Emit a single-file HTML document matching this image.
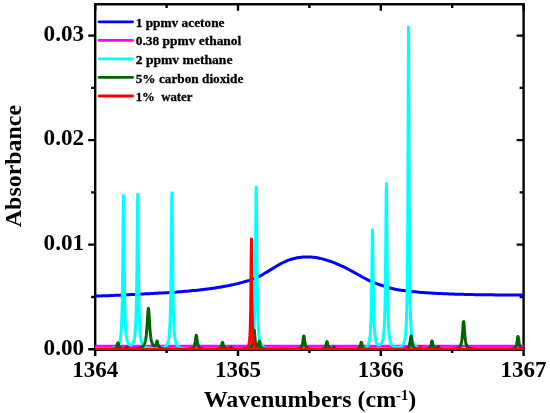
<!DOCTYPE html>
<html><head><meta charset="utf-8"><title>Absorbance spectra</title>
<style>
html,body{margin:0;padding:0;background:#fff;}
svg{display:block}
text{font-family:"Liberation Serif","DejaVu Serif",serif;font-weight:bold;fill:#000}
.tk{font-size:23px}
.lg{font-size:13.5px;stroke:#000;stroke-width:0.3px}
.ti{font-size:23px}
</style></head>
<body>
<svg width="550" height="413" viewBox="0 0 550 413">
<defs><clipPath id="cl"><rect x="0" y="0" width="550" height="348.6"/></clipPath><clipPath id="cr"><rect x="0" y="0" width="550" height="348.1"/></clipPath></defs>
<rect width="550" height="413" fill="#fff"/>
<rect x="95.20" y="4.25" width="428.40" height="345.45" fill="none" stroke="#000" stroke-width="2.4"/>
<path d="M95.20,349.70 v6.20 M95.20,4.25 v6.60 M166.60,349.70 v3.40 M166.60,4.25 v3.80 M238.00,349.70 v6.20 M238.00,4.25 v6.60 M309.40,349.70 v3.40 M309.40,4.25 v3.80 M380.80,349.70 v6.20 M380.80,4.25 v6.60 M452.20,349.70 v3.40 M452.20,4.25 v3.80 M523.60,349.70 v6.20 M523.60,4.25 v6.60 M95.20,349.20 h-7.00 M523.60,349.20 h-7.00 M95.20,296.93 h-4.00 M523.60,296.93 h-4.00 M95.20,244.67 h-7.00 M523.60,244.67 h-7.00 M95.20,192.40 h-4.00 M523.60,192.40 h-4.00 M95.20,140.13 h-7.00 M523.60,140.13 h-7.00 M95.20,87.87 h-4.00 M523.60,87.87 h-4.00 M95.20,35.60 h-7.00 M523.60,35.60 h-7.00" fill="none" stroke="#000" stroke-width="2.4"/>
<path d="M95.20,296.10 L97.20,296.05 L99.20,295.99 L101.20,295.92 L103.20,295.85 L105.20,295.78 L107.20,295.71 L109.20,295.63 L111.20,295.55 L113.20,295.46 L115.20,295.37 L117.20,295.28 L119.20,295.19 L121.20,295.10 L123.20,295.00 L125.20,294.90 L127.20,294.80 L129.20,294.70 L131.20,294.59 L133.20,294.49 L135.20,294.39 L137.20,294.28 L139.20,294.17 L141.20,294.07 L143.20,293.96 L145.20,293.86 L147.20,293.75 L149.20,293.65 L151.20,293.54 L153.20,293.44 L155.20,293.34 L157.20,293.23 L159.20,293.12 L161.20,293.02 L163.20,292.90 L165.20,292.79 L167.20,292.67 L169.20,292.55 L171.20,292.42 L173.20,292.29 L175.20,292.15 L177.20,292.01 L179.20,291.86 L181.20,291.70 L183.20,291.53 L185.20,291.36 L187.20,291.18 L189.20,291.00 L191.20,290.81 L193.20,290.61 L195.20,290.40 L197.20,290.18 L199.20,289.96 L201.20,289.73 L203.20,289.50 L205.20,289.25 L207.20,289.00 L209.20,288.74 L211.20,288.47 L213.20,288.19 L215.20,287.90 L217.20,287.59 L219.20,287.28 L221.20,286.95 L223.20,286.60 L225.20,286.24 L227.20,285.86 L229.20,285.46 L231.20,285.04 L233.20,284.61 L235.20,284.15 L237.20,283.67 L239.20,283.17 L241.20,282.65 L243.20,282.11 L245.20,281.54 L247.20,280.95 L249.20,280.33 L251.20,279.66 L253.20,278.93 L255.20,278.15 L257.20,277.29 L259.20,276.35 L261.20,275.32 L263.20,274.22 L265.20,273.06 L267.20,271.86 L269.20,270.63 L271.20,269.38 L273.20,268.15 L275.20,266.93 L277.20,265.74 L279.20,264.60 L281.20,263.51 L283.20,262.49 L285.20,261.54 L287.20,260.69 L289.20,259.94 L291.20,259.28 L293.20,258.72 L295.20,258.25 L297.20,257.84 L299.20,257.51 L301.20,257.25 L303.20,257.06 L305.20,256.94 L307.20,256.89 L309.20,256.93 L311.20,257.03 L313.20,257.21 L315.20,257.46 L317.20,257.78 L319.20,258.17 L321.20,258.62 L323.20,259.13 L325.20,259.69 L327.20,260.31 L329.20,260.97 L331.20,261.68 L333.20,262.43 L335.20,263.21 L337.20,264.03 L339.20,264.89 L341.20,265.79 L343.20,266.73 L345.20,267.70 L347.20,268.71 L349.20,269.75 L351.20,270.82 L353.20,271.91 L355.20,273.02 L357.20,274.14 L359.20,275.25 L361.20,276.37 L363.20,277.47 L365.20,278.54 L367.20,279.58 L369.20,280.56 L371.20,281.49 L373.20,282.35 L375.20,283.14 L377.20,283.88 L379.20,284.59 L381.20,285.27 L383.20,285.93 L385.20,286.56 L387.20,287.17 L389.20,287.75 L391.20,288.29 L393.20,288.78 L395.20,289.21 L397.20,289.60 L399.20,289.95 L401.20,290.26 L403.20,290.54 L405.20,290.80 L407.20,291.03 L409.20,291.26 L411.20,291.47 L413.20,291.67 L415.20,291.86 L417.20,292.05 L419.20,292.22 L421.20,292.39 L423.20,292.54 L425.20,292.69 L427.20,292.83 L429.20,292.97 L431.20,293.09 L433.20,293.21 L435.20,293.32 L437.20,293.42 L439.20,293.52 L441.20,293.62 L443.20,293.70 L445.20,293.79 L447.20,293.86 L449.20,293.94 L451.20,294.01 L453.20,294.07 L455.20,294.14 L457.20,294.20 L459.20,294.25 L461.20,294.31 L463.20,294.36 L465.20,294.41 L467.20,294.46 L469.20,294.51 L471.20,294.55 L473.20,294.59 L475.20,294.63 L477.20,294.66 L479.20,294.70 L481.20,294.73 L483.20,294.76 L485.20,294.78 L487.20,294.81 L489.20,294.83 L491.20,294.85 L493.20,294.87 L495.20,294.89 L497.20,294.90 L499.20,294.91 L501.20,294.92 L503.20,294.93 L505.20,294.94 L507.20,294.94 L509.20,294.94 L511.20,294.94 L513.20,294.94 L515.20,294.94 L517.20,294.93 L519.20,294.92 L521.20,294.91 L523.20,294.90" fill="none" stroke="#0000ff" stroke-width="3.0" stroke-linejoin="round"/>
<path d="M95.2,346.3 L523.6,346.3" fill="none" stroke="#ff00ff" stroke-width="3.0"/>
<g clip-path="url(#cl)">
<path d="M95.20,349.22 L95.45,349.22 L95.70,349.22 L95.95,349.21 L96.20,349.21 L96.45,349.20 L96.70,349.20 L96.95,349.20 L97.20,349.19 L97.45,349.19 L97.70,349.18 L97.95,349.18 L98.20,349.18 L98.45,349.17 L98.70,349.17 L98.95,349.16 L99.20,349.16 L99.45,349.15 L99.70,349.15 L99.95,349.14 L100.20,349.14 L100.45,349.13 L100.70,349.12 L100.95,349.12 L101.20,349.11 L101.45,349.11 L101.70,349.10 L101.95,349.09 L102.20,349.08 L102.45,349.08 L102.70,349.07 L102.95,349.06 L103.20,349.05 L103.45,349.05 L103.70,349.04 L103.95,349.03 L104.20,349.02 L104.45,349.01 L104.70,349.00 L104.95,348.99 L105.20,348.98 L105.45,348.97 L105.70,348.96 L105.95,348.94 L106.20,348.93 L106.45,348.92 L106.70,348.91 L106.95,348.89 L107.20,348.88 L107.45,348.86 L107.70,348.85 L107.95,348.83 L108.20,348.81 L108.45,348.79 L108.70,348.77 L108.95,348.75 L109.20,348.73 L109.45,348.71 L109.70,348.69 L109.95,348.66 L110.20,348.64 L110.45,348.61 L110.70,348.58 L110.95,348.55 L111.20,348.52 L111.45,348.49 L111.70,348.45 L111.95,348.41 L112.20,348.37 L112.45,348.33 L112.70,348.28 L112.95,348.23 L113.20,348.18 L113.45,348.12 L113.70,348.06 L113.95,348.00 L114.20,347.93 L114.45,347.85 L114.70,347.77 L114.95,347.68 L115.20,347.59 L115.45,347.48 L115.70,347.37 L115.95,347.24 L116.20,347.11 L116.45,346.95 L116.70,346.78 L116.95,346.60 L117.20,346.39 L117.45,346.15 L117.70,345.89 L117.95,345.59 L118.20,345.25 L118.45,344.86 L118.70,344.42 L118.95,343.90 L119.20,343.29 L119.45,342.58 L119.70,341.73 L119.95,340.71 L120.20,339.47 L120.45,337.94 L120.70,336.04 L120.95,333.62 L121.20,330.51 L121.45,326.42 L121.70,320.93 L121.95,313.40 L122.20,302.88 L122.45,288.05 L122.70,267.37 L122.95,240.50 L123.20,212.14 L123.45,195.62 L123.70,203.14 L123.95,228.71 L124.20,257.16 L124.45,280.40 L124.70,297.36 L124.95,309.38 L125.20,317.93 L125.45,324.10 L125.70,328.64 L125.95,332.06 L126.20,334.68 L126.45,336.72 L126.70,338.33 L126.95,339.62 L127.20,340.67 L127.45,341.52 L127.70,342.22 L127.95,342.80 L128.20,343.28 L128.45,343.68 L128.70,344.01 L128.95,344.28 L129.20,344.50 L129.45,344.68 L129.70,344.81 L129.95,344.91 L130.20,344.98 L130.45,345.01 L130.70,345.01 L130.95,344.98 L131.20,344.92 L131.45,344.83 L131.70,344.69 L131.95,344.52 L132.20,344.31 L132.45,344.04 L132.70,343.72 L132.95,343.34 L133.20,342.87 L133.45,342.31 L133.70,341.63 L133.95,340.80 L134.20,339.79 L134.45,338.55 L134.70,337.00 L134.95,335.04 L135.20,332.54 L135.45,329.29 L135.70,324.98 L135.95,319.15 L136.20,311.12 L136.45,299.85 L136.70,283.93 L136.95,261.89 L137.20,234.01 L137.45,206.62 L137.70,194.34 L137.95,206.65 L138.20,234.08 L138.45,262.00 L138.70,284.07 L138.95,300.03 L139.20,311.34 L139.45,319.41 L139.70,325.27 L139.95,329.63 L140.20,332.92 L140.45,335.47 L140.70,337.47 L140.95,339.06 L141.20,340.36 L141.45,341.42 L141.70,342.30 L141.95,343.04 L142.20,343.67 L142.45,344.20 L142.70,344.66 L142.95,345.06 L143.20,345.41 L143.45,345.71 L143.70,345.98 L143.95,346.22 L144.20,346.43 L144.45,346.62 L144.70,346.79 L144.95,346.94 L145.20,347.08 L145.45,347.21 L145.70,347.32 L145.95,347.42 L146.20,347.52 L146.45,347.60 L146.70,347.68 L146.95,347.76 L147.20,347.82 L147.45,347.89 L147.70,347.94 L147.95,348.00 L148.20,348.04 L148.45,348.09 L148.70,348.13 L148.95,348.17 L149.20,348.21 L149.45,348.24 L149.70,348.27 L149.95,348.30 L150.20,348.33 L150.45,348.35 L150.70,348.37 L150.95,348.39 L151.20,348.41 L151.45,348.43 L151.70,348.45 L151.95,348.46 L152.20,348.48 L152.45,348.49 L152.70,348.50 L152.95,348.51 L153.20,348.52 L153.45,348.53 L153.70,348.53 L153.95,348.54 L154.20,348.54 L154.45,348.55 L154.70,348.55 L154.95,348.55 L155.20,348.55 L155.45,348.55 L155.70,348.55 L155.95,348.55 L156.20,348.54 L156.45,348.54 L156.70,348.53 L156.95,348.53 L157.20,348.52 L157.45,348.51 L157.70,348.50 L157.95,348.48 L158.20,348.47 L158.45,348.46 L158.70,348.44 L158.95,348.42 L159.20,348.40 L159.45,348.38 L159.70,348.36 L159.95,348.33 L160.20,348.30 L160.45,348.27 L160.70,348.24 L160.95,348.20 L161.20,348.17 L161.45,348.12 L161.70,348.08 L161.95,348.03 L162.20,347.97 L162.45,347.91 L162.70,347.85 L162.95,347.78 L163.20,347.70 L163.45,347.62 L163.70,347.53 L163.95,347.42 L164.20,347.31 L164.45,347.19 L164.70,347.05 L164.95,346.90 L165.20,346.73 L165.45,346.54 L165.70,346.33 L165.95,346.08 L166.20,345.81 L166.45,345.50 L166.70,345.15 L166.95,344.74 L167.20,344.26 L167.45,343.71 L167.70,343.06 L167.95,342.29 L168.20,341.37 L168.45,340.26 L168.70,338.90 L168.95,337.21 L169.20,335.09 L169.45,332.38 L169.70,328.85 L169.95,324.18 L170.20,317.84 L170.45,309.08 L170.70,296.77 L170.95,279.41 L171.20,255.64 L171.45,226.53 L171.70,200.38 L171.95,192.68 L172.20,209.54 L172.45,238.52 L172.70,265.96 L172.95,287.08 L173.20,302.23 L173.45,312.96 L173.70,320.64 L173.95,326.24 L174.20,330.41 L174.45,333.58 L174.70,336.04 L174.95,337.98 L175.20,339.53 L175.45,340.78 L175.70,341.82 L175.95,342.68 L176.20,343.40 L176.45,344.01 L176.70,344.53 L176.95,344.98 L177.20,345.37 L177.45,345.71 L177.70,346.01 L177.95,346.27 L178.20,346.51 L178.45,346.72 L178.70,346.90 L178.95,347.07 L179.20,347.22 L179.45,347.36 L179.70,347.48 L179.95,347.59 L180.20,347.69 L180.45,347.79 L180.70,347.87 L180.95,347.95 L181.20,348.03 L181.45,348.09 L181.70,348.16 L181.95,348.22 L182.20,348.27 L182.45,348.32 L182.70,348.37 L182.95,348.41 L183.20,348.45 L183.45,348.49 L183.70,348.53 L183.95,348.56 L184.20,348.59 L184.45,348.62 L184.70,348.65 L184.95,348.68 L185.20,348.70 L185.45,348.72 L185.70,348.75 L185.95,348.77 L186.20,348.79 L186.45,348.81 L186.70,348.83 L186.95,348.84 L187.20,348.86 L187.45,348.88 L187.70,348.89 L187.95,348.91 L188.20,348.92 L188.45,348.93 L188.70,348.95 L188.95,348.96 L189.20,348.97 L189.45,348.98 L189.70,348.99 L189.95,349.00 L190.20,349.01 L190.45,349.02 L190.70,349.03 L190.95,349.04 L191.20,349.05 L191.45,349.05 L191.70,349.06 L191.95,349.07 L192.20,349.08 L192.45,349.08 L192.70,349.09 L192.95,349.10 L193.20,349.10 L193.45,349.11 L193.70,349.11 L193.95,349.12 L194.20,349.13 L194.45,349.13 L194.70,349.14 L194.95,349.14 L195.20,349.15 L195.45,349.15 L195.70,349.15 L195.95,349.16 L196.20,349.16 L196.45,349.17 L196.70,349.17 L196.95,349.17 L197.20,349.18 L197.45,349.18 L197.70,349.18 L197.95,349.19 L198.20,349.19 L198.45,349.19 L198.70,349.20 L198.95,349.20 L199.20,349.20 L199.45,349.21 L199.70,349.21 L199.95,349.21 L200.20,349.21 L200.45,349.22 L200.70,349.22 L200.95,349.22 L201.20,349.22 L201.45,349.23 L201.70,349.23 L201.95,349.23 L202.20,349.23 L202.45,349.23 L202.70,349.24 L202.95,349.24 L203.20,349.24 L203.45,349.24 L203.70,349.24 L203.95,349.24 L204.20,349.25 L204.45,349.25 L204.70,349.25 L204.95,349.25 L205.20,349.25 L205.45,349.25 L205.70,349.25 L205.95,349.26 L206.20,349.26 L206.45,349.26 L206.70,349.26 L206.95,349.26 L207.20,349.26 L207.45,349.26 L207.70,349.26 L207.95,349.26 L208.20,349.26 L208.45,349.27 L208.70,349.27 L208.95,349.27 L209.20,349.27 L209.45,349.27 L209.70,349.27 L209.95,349.27 L210.20,349.27 L210.45,349.27 L210.70,349.27 L210.95,349.27 L211.20,349.27 L211.45,349.27 L211.70,349.27 L211.95,349.27 L212.20,349.27 L212.45,349.27 L212.70,349.28 L212.95,349.28 L213.20,349.28 L213.45,349.28 L213.70,349.28 L213.95,349.28 L214.20,349.28 L214.45,349.28 L214.70,349.28 L214.95,349.28 L215.20,349.28 L215.45,349.28 L215.70,349.28 L215.95,349.28 L216.20,349.28 L216.45,349.28 L216.70,349.28 L216.95,349.28 L217.20,349.28 L217.45,349.28 L217.70,349.28 L217.95,349.27 L218.20,349.27 L218.45,349.27 L218.70,349.27 L218.95,349.27 L219.20,349.27 L219.45,349.27 L219.70,349.27 L219.95,349.27 L220.20,349.27 L220.45,349.27 L220.70,349.27 L220.95,349.27 L221.20,349.27 L221.45,349.27 L221.70,349.27 L221.95,349.27 L222.20,349.26 L222.45,349.26 L222.70,349.26 L222.95,349.26 L223.20,349.26 L223.45,349.26 L223.70,349.26 L223.95,349.26 L224.20,349.26 L224.45,349.25 L224.70,349.25 L224.95,349.25 L225.20,349.25 L225.45,349.25 L225.70,349.25 L225.95,349.25 L226.20,349.24 L226.45,349.24 L226.70,349.24 L226.95,349.24 L227.20,349.24 L227.45,349.23 L227.70,349.23 L227.95,349.23 L228.20,349.23 L228.45,349.23 L228.70,349.22 L228.95,349.22 L229.20,349.22 L229.45,349.22 L229.70,349.21 L229.95,349.21 L230.20,349.21 L230.45,349.20 L230.70,349.20 L230.95,349.20 L231.20,349.19 L231.45,349.19 L231.70,349.19 L231.95,349.18 L232.20,349.18 L232.45,349.18 L232.70,349.17 L232.95,349.17 L233.20,349.16 L233.45,349.16 L233.70,349.15 L233.95,349.15 L234.20,349.14 L234.45,349.14 L234.70,349.13 L234.95,349.13 L235.20,349.12 L235.45,349.12 L235.70,349.11 L235.95,349.10 L236.20,349.10 L236.45,349.09 L236.70,349.08 L236.95,349.07 L237.20,349.06 L237.45,349.06 L237.70,349.05 L237.95,349.04 L238.20,349.03 L238.45,349.02 L238.70,349.01 L238.95,349.00 L239.20,348.99 L239.45,348.97 L239.70,348.96 L239.95,348.95 L240.20,348.93 L240.45,348.92 L240.70,348.91 L240.95,348.89 L241.20,348.87 L241.45,348.86 L241.70,348.84 L241.95,348.82 L242.20,348.80 L242.45,348.78 L242.70,348.75 L242.95,348.73 L243.20,348.70 L243.45,348.68 L243.70,348.65 L243.95,348.62 L244.20,348.58 L244.45,348.55 L244.70,348.51 L244.95,348.47 L245.20,348.43 L245.45,348.39 L245.70,348.34 L245.95,348.29 L246.20,348.23 L246.45,348.17 L246.70,348.11 L246.95,348.04 L247.20,347.96 L247.45,347.88 L247.70,347.79 L247.95,347.69 L248.20,347.59 L248.45,347.47 L248.70,347.34 L248.95,347.20 L249.20,347.04 L249.45,346.86 L249.70,346.67 L249.95,346.45 L250.20,346.21 L250.45,345.93 L250.70,345.61 L250.95,345.25 L251.20,344.84 L251.45,344.36 L251.70,343.81 L251.95,343.16 L252.20,342.39 L252.45,341.47 L252.70,340.36 L252.95,339.01 L253.20,337.34 L253.45,335.25 L253.70,332.59 L253.95,329.14 L254.20,324.58 L254.45,318.43 L254.70,309.96 L254.95,298.10 L255.20,281.34 L255.45,258.17 L255.70,228.86 L255.95,200.07 L256.20,187.15 L256.45,200.07 L256.70,228.86 L256.95,258.17 L257.20,281.35 L257.45,298.10 L257.70,309.96 L257.95,318.43 L258.20,324.58 L258.45,329.14 L258.70,332.59 L258.95,335.25 L259.20,337.34 L259.45,339.01 L259.70,340.36 L259.95,341.47 L260.20,342.39 L260.45,343.16 L260.70,343.81 L260.95,344.37 L261.20,344.84 L261.45,345.26 L261.70,345.62 L261.95,345.93 L262.20,346.21 L262.45,346.46 L262.70,346.67 L262.95,346.87 L263.20,347.04 L263.45,347.20 L263.70,347.34 L263.95,347.47 L264.20,347.59 L264.45,347.70 L264.70,347.80 L264.95,347.89 L265.20,347.97 L265.45,348.04 L265.70,348.11 L265.95,348.18 L266.20,348.24 L266.45,348.29 L266.70,348.35 L266.95,348.39 L267.20,348.44 L267.45,348.48 L267.70,348.52 L267.95,348.56 L268.20,348.59 L268.45,348.62 L268.70,348.66 L268.95,348.68 L269.20,348.71 L269.45,348.74 L269.70,348.76 L269.95,348.78 L270.20,348.81 L270.45,348.83 L270.70,348.85 L270.95,348.87 L271.20,348.88 L271.45,348.90 L271.70,348.92 L271.95,348.93 L272.20,348.95 L272.45,348.96 L272.70,348.97 L272.95,348.99 L273.20,349.00 L273.45,349.01 L273.70,349.02 L273.95,349.03 L274.20,349.04 L274.45,349.05 L274.70,349.06 L274.95,349.07 L275.20,349.08 L275.45,349.09 L275.70,349.09 L275.95,349.10 L276.20,349.11 L276.45,349.12 L276.70,349.12 L276.95,349.13 L277.20,349.14 L277.45,349.14 L277.70,349.15 L277.95,349.15 L278.20,349.16 L278.45,349.17 L278.70,349.17 L278.95,349.18 L279.20,349.18 L279.45,349.18 L279.70,349.19 L279.95,349.19 L280.20,349.20 L280.45,349.20 L280.70,349.21 L280.95,349.21 L281.20,349.21 L281.45,349.22 L281.70,349.22 L281.95,349.22 L282.20,349.23 L282.45,349.23 L282.70,349.23 L282.95,349.24 L283.20,349.24 L283.45,349.24 L283.70,349.25 L283.95,349.25 L284.20,349.25 L284.45,349.25 L284.70,349.26 L284.95,349.26 L285.20,349.26 L285.45,349.26 L285.70,349.26 L285.95,349.27 L286.20,349.27 L286.45,349.27 L286.70,349.27 L286.95,349.28 L287.20,349.28 L287.45,349.28 L287.70,349.28 L287.95,349.28 L288.20,349.28 L288.45,349.29 L288.70,349.29 L288.95,349.29 L289.20,349.29 L289.45,349.29 L289.70,349.29 L289.95,349.29 L290.20,349.30 L290.45,349.30 L290.70,349.30 L290.95,349.30 L291.20,349.30 L291.45,349.30 L291.70,349.30 L291.95,349.30 L292.20,349.31 L292.45,349.31 L292.70,349.31 L292.95,349.31 L293.20,349.31 L293.45,349.31 L293.70,349.31 L293.95,349.31 L294.20,349.31 L294.45,349.31 L294.70,349.32 L294.95,349.32 L295.20,349.32 L295.45,349.32 L295.70,349.32 L295.95,349.32 L296.20,349.32 L296.45,349.32 L296.70,349.32 L296.95,349.32 L297.20,349.32 L297.45,349.32 L297.70,349.32 L297.95,349.33 L298.20,349.33 L298.45,349.33 L298.70,349.33 L298.95,349.33 L299.20,349.33 L299.45,349.33 L299.70,349.33 L299.95,349.33 L300.20,349.33 L300.45,349.33 L300.70,349.33 L300.95,349.33 L301.20,349.33 L301.45,349.33 L301.70,349.33 L301.95,349.33 L302.20,349.33 L302.45,349.33 L302.70,349.33 L302.95,349.33 L303.20,349.34 L303.45,349.34 L303.70,349.34 L303.95,349.34 L304.20,349.34 L304.45,349.34 L304.70,349.34 L304.95,349.34 L305.20,349.34 L305.45,349.34 L305.70,349.34 L305.95,349.34 L306.20,349.34 L306.45,349.34 L306.70,349.34 L306.95,349.34 L307.20,349.34 L307.45,349.34 L307.70,349.34 L307.95,349.34 L308.20,349.34 L308.45,349.34 L308.70,349.34 L308.95,349.34 L309.20,349.34 L309.45,349.34 L309.70,349.34 L309.95,349.34 L310.20,349.34 L310.45,349.34 L310.70,349.34 L310.95,349.34 L311.20,349.34 L311.45,349.34 L311.70,349.34 L311.95,349.34 L312.20,349.34 L312.45,349.34 L312.70,349.34 L312.95,349.34 L313.20,349.34 L313.45,349.34 L313.70,349.34 L313.95,349.34 L314.20,349.34 L314.45,349.34 L314.70,349.34 L314.95,349.34 L315.20,349.34 L315.45,349.34 L315.70,349.34 L315.95,349.34 L316.20,349.34 L316.45,349.34 L316.70,349.34 L316.95,349.34 L317.20,349.34 L317.45,349.34 L317.70,349.34 L317.95,349.34 L318.20,349.34 L318.45,349.34 L318.70,349.34 L318.95,349.33 L319.20,349.33 L319.45,349.33 L319.70,349.33 L319.95,349.33 L320.20,349.33 L320.45,349.33 L320.70,349.33 L320.95,349.33 L321.20,349.33 L321.45,349.33 L321.70,349.33 L321.95,349.33 L322.20,349.33 L322.45,349.33 L322.70,349.33 L322.95,349.33 L323.20,349.33 L323.45,349.33 L323.70,349.33 L323.95,349.33 L324.20,349.33 L324.45,349.33 L324.70,349.33 L324.95,349.32 L325.20,349.32 L325.45,349.32 L325.70,349.32 L325.95,349.32 L326.20,349.32 L326.45,349.32 L326.70,349.32 L326.95,349.32 L327.20,349.32 L327.45,349.32 L327.70,349.32 L327.95,349.32 L328.20,349.32 L328.45,349.32 L328.70,349.31 L328.95,349.31 L329.20,349.31 L329.45,349.31 L329.70,349.31 L329.95,349.31 L330.20,349.31 L330.45,349.31 L330.70,349.31 L330.95,349.31 L331.20,349.31 L331.45,349.31 L331.70,349.30 L331.95,349.30 L332.20,349.30 L332.45,349.30 L332.70,349.30 L332.95,349.30 L333.20,349.30 L333.45,349.30 L333.70,349.30 L333.95,349.29 L334.20,349.29 L334.45,349.29 L334.70,349.29 L334.95,349.29 L335.20,349.29 L335.45,349.29 L335.70,349.29 L335.95,349.28 L336.20,349.28 L336.45,349.28 L336.70,349.28 L336.95,349.28 L337.20,349.28 L337.45,349.28 L337.70,349.27 L337.95,349.27 L338.20,349.27 L338.45,349.27 L338.70,349.27 L338.95,349.27 L339.20,349.26 L339.45,349.26 L339.70,349.26 L339.95,349.26 L340.20,349.26 L340.45,349.25 L340.70,349.25 L340.95,349.25 L341.20,349.25 L341.45,349.25 L341.70,349.24 L341.95,349.24 L342.20,349.24 L342.45,349.24 L342.70,349.23 L342.95,349.23 L343.20,349.23 L343.45,349.23 L343.70,349.22 L343.95,349.22 L344.20,349.22 L344.45,349.21 L344.70,349.21 L344.95,349.21 L345.20,349.21 L345.45,349.20 L345.70,349.20 L345.95,349.20 L346.20,349.19 L346.45,349.19 L346.70,349.19 L346.95,349.18 L347.20,349.18 L347.45,349.17 L347.70,349.17 L347.95,349.17 L348.20,349.16 L348.45,349.16 L348.70,349.15 L348.95,349.15 L349.20,349.14 L349.45,349.14 L349.70,349.13 L349.95,349.13 L350.20,349.12 L350.45,349.12 L350.70,349.11 L350.95,349.11 L351.20,349.10 L351.45,349.09 L351.70,349.09 L351.95,349.08 L352.20,349.07 L352.45,349.07 L352.70,349.06 L352.95,349.05 L353.20,349.04 L353.45,349.04 L353.70,349.03 L353.95,349.02 L354.20,349.01 L354.45,349.00 L354.70,348.99 L354.95,348.98 L355.20,348.97 L355.45,348.96 L355.70,348.95 L355.95,348.94 L356.20,348.92 L356.45,348.91 L356.70,348.90 L356.95,348.88 L357.20,348.87 L357.45,348.86 L357.70,348.84 L357.95,348.82 L358.20,348.81 L358.45,348.79 L358.70,348.77 L358.95,348.75 L359.20,348.73 L359.45,348.70 L359.70,348.68 L359.95,348.66 L360.20,348.63 L360.45,348.60 L360.70,348.57 L360.95,348.54 L361.20,348.51 L361.45,348.48 L361.70,348.44 L361.95,348.40 L362.20,348.36 L362.45,348.31 L362.70,348.26 L362.95,348.21 L363.20,348.15 L363.45,348.09 L363.70,348.03 L363.95,347.96 L364.20,347.88 L364.45,347.80 L364.70,347.71 L364.95,347.61 L365.20,347.50 L365.45,347.38 L365.70,347.24 L365.95,347.09 L366.20,346.93 L366.45,346.74 L366.70,346.54 L366.95,346.30 L367.20,346.04 L367.45,345.73 L367.70,345.38 L367.95,344.97 L368.20,344.50 L368.45,343.94 L368.70,343.28 L368.95,342.48 L369.20,341.51 L369.45,340.33 L369.70,338.84 L369.95,336.96 L370.20,334.54 L370.45,331.36 L370.70,327.09 L370.95,321.24 L371.20,313.07 L371.45,301.55 L371.70,285.49 L371.95,264.63 L372.20,242.61 L372.45,229.78 L372.70,235.60 L372.95,255.44 L373.20,277.52 L373.45,295.55 L373.70,308.71 L373.95,318.03 L374.20,324.65 L374.45,329.42 L374.70,332.94 L374.95,335.58 L375.20,337.60 L375.45,339.17 L375.70,340.40 L375.95,341.38 L376.20,342.18 L376.45,342.82 L376.70,343.34 L376.95,343.76 L377.20,344.11 L377.45,344.39 L377.70,344.62 L377.95,344.79 L378.20,344.93 L378.45,345.02 L378.70,345.08 L378.95,345.11 L379.20,345.11 L379.45,345.07 L379.70,345.00 L379.95,344.90 L380.20,344.77 L380.45,344.60 L380.70,344.38 L380.95,344.12 L381.20,343.81 L381.45,343.43 L381.70,342.98 L381.95,342.45 L382.20,341.80 L382.45,341.03 L382.70,340.10 L382.95,338.95 L383.20,337.55 L383.45,335.79 L383.70,333.58 L383.95,330.75 L384.20,327.05 L384.45,322.13 L384.70,315.47 L384.95,306.24 L385.20,293.27 L385.45,274.97 L385.70,249.91 L385.95,219.23 L386.20,191.65 L386.45,183.53 L386.70,201.33 L386.95,231.89 L387.20,260.84 L387.45,283.12 L387.70,299.11 L387.95,310.43 L388.20,318.53 L388.45,324.44 L388.70,328.84 L388.95,332.18 L389.20,334.77 L389.45,336.81 L389.70,338.44 L389.95,339.77 L390.20,340.85 L390.45,341.75 L390.70,342.51 L390.95,343.15 L391.20,343.69 L391.45,344.16 L391.70,344.56 L391.95,344.91 L392.20,345.21 L392.45,345.48 L392.70,345.71 L392.95,345.92 L393.20,346.10 L393.45,346.26 L393.70,346.40 L393.95,346.52 L394.20,346.64 L394.45,346.73 L394.70,346.82 L394.95,346.89 L395.20,346.96 L395.45,347.02 L395.70,347.06 L395.95,347.10 L396.20,347.14 L396.45,347.16 L396.70,347.18 L396.95,347.19 L397.20,347.20 L397.45,347.20 L397.70,347.19 L397.95,347.18 L398.20,347.16 L398.45,347.13 L398.70,347.10 L398.95,347.05 L399.20,347.00 L399.45,346.95 L399.70,346.88 L399.95,346.80 L400.20,346.71 L400.45,346.62 L400.70,346.50 L400.95,346.38 L401.20,346.23 L401.45,346.07 L401.70,345.89 L401.95,345.68 L402.20,345.45 L402.45,345.18 L402.70,344.88 L402.95,344.53 L403.20,344.13 L403.45,343.67 L403.70,343.14 L403.95,342.51 L404.20,341.78 L404.45,340.91 L404.70,339.86 L404.95,338.60 L405.20,337.06 L405.45,335.15 L405.70,332.74 L405.95,329.66 L406.20,325.63 L406.45,320.25 L406.70,312.85 L406.95,302.39 L407.20,287.05 L407.45,263.78 L407.70,227.47 L407.95,171.12 L408.20,93.57 L408.45,27.10 L408.70,36.15 L408.95,110.04 L409.20,184.32 L409.45,236.15 L409.70,269.34 L409.95,290.70 L410.20,304.88 L410.45,314.63 L410.70,321.57 L410.95,326.66 L411.20,330.48 L411.45,333.42 L411.70,335.73 L411.95,337.58 L412.20,339.07 L412.45,340.30 L412.70,341.32 L412.95,342.18 L413.20,342.90 L413.45,343.53 L413.70,344.06 L413.95,344.52 L414.20,344.93 L414.45,345.29 L414.70,345.60 L414.95,345.88 L415.20,346.13 L415.45,346.35 L415.70,346.55 L415.95,346.73 L416.20,346.90 L416.45,347.05 L416.70,347.18 L416.95,347.31 L417.20,347.42 L417.45,347.53 L417.70,347.62 L417.95,347.71 L418.20,347.79 L418.45,347.87 L418.70,347.94 L418.95,348.01 L419.20,348.07 L419.45,348.12 L419.70,348.18 L419.95,348.23 L420.20,348.28 L420.45,348.32 L420.70,348.36 L420.95,348.40 L421.20,348.44 L421.45,348.47 L421.70,348.51 L421.95,348.54 L422.20,348.57 L422.45,348.60 L422.70,348.62 L422.95,348.65 L423.20,348.67 L423.45,348.69 L423.70,348.72 L423.95,348.74 L424.20,348.76 L424.45,348.78 L424.70,348.80 L424.95,348.81 L425.20,348.83 L425.45,348.85 L425.70,348.86 L425.95,348.88 L426.20,348.89 L426.45,348.90 L426.70,348.92 L426.95,348.93 L427.20,348.94 L427.45,348.95 L427.70,348.96 L427.95,348.97 L428.20,348.99 L428.45,349.00 L428.70,349.00 L428.95,349.01 L429.20,349.02 L429.45,349.03 L429.70,349.04 L429.95,349.05 L430.20,349.06 L430.45,349.06 L430.70,349.07 L430.95,349.08 L431.20,349.09 L431.45,349.09 L431.70,349.10 L431.95,349.11 L432.20,349.11 L432.45,349.12 L432.70,349.12 L432.95,349.13 L433.20,349.14 L433.45,349.14 L433.70,349.15 L433.95,349.15 L434.20,349.16 L434.45,349.16 L434.70,349.17 L434.95,349.17 L435.20,349.17 L435.45,349.18 L435.70,349.18 L435.95,349.19 L436.20,349.19 L436.45,349.19 L436.70,349.20 L436.95,349.20 L437.20,349.21 L437.45,349.21 L437.70,349.21 L437.95,349.22 L438.20,349.22 L438.45,349.22 L438.70,349.23 L438.95,349.23 L439.20,349.23 L439.45,349.24 L439.70,349.24 L439.95,349.24 L440.20,349.24 L440.45,349.25 L440.70,349.25 L440.95,349.25 L441.20,349.25 L441.45,349.26 L441.70,349.26 L441.95,349.26 L442.20,349.26 L442.45,349.27 L442.70,349.27 L442.95,349.27 L443.20,349.27 L443.45,349.27 L443.70,349.28 L443.95,349.28 L444.20,349.28 L444.45,349.28 L444.70,349.28 L444.95,349.29 L445.20,349.29 L445.45,349.29 L445.70,349.29 L445.95,349.29 L446.20,349.30 L446.45,349.30 L446.70,349.30 L446.95,349.30 L447.20,349.30 L447.45,349.30 L447.70,349.31 L447.95,349.31 L448.20,349.31 L448.45,349.31 L448.70,349.31 L448.95,349.31 L449.20,349.31 L449.45,349.32 L449.70,349.32 L449.95,349.32 L450.20,349.32 L450.45,349.32 L450.70,349.32 L450.95,349.32 L451.20,349.32 L451.45,349.33 L451.70,349.33 L451.95,349.33 L452.20,349.33 L452.45,349.33 L452.70,349.33 L452.95,349.33 L453.20,349.33 L453.45,349.33 L453.70,349.34 L453.95,349.34 L454.20,349.34 L454.45,349.34 L454.70,349.34 L454.95,349.34 L455.20,349.34 L455.45,349.34 L455.70,349.34 L455.95,349.34 L456.20,349.35 L456.45,349.35 L456.70,349.35 L456.95,349.35 L457.20,349.35 L457.45,349.35 L457.70,349.35 L457.95,349.35 L458.20,349.35 L458.45,349.35 L458.70,349.35 L458.95,349.35 L459.20,349.36 L459.45,349.36 L459.70,349.36 L459.95,349.36 L460.20,349.36 L460.45,349.36 L460.70,349.36 L460.95,349.36 L461.20,349.36 L461.45,349.36 L461.70,349.36 L461.95,349.36 L462.20,349.36 L462.45,349.36 L462.70,349.37 L462.95,349.37 L463.20,349.37 L463.45,349.37 L463.70,349.37 L463.95,349.37 L464.20,349.37 L464.45,349.37 L464.70,349.37 L464.95,349.37 L465.20,349.37 L465.45,349.37 L465.70,349.37 L465.95,349.37 L466.20,349.37 L466.45,349.37 L466.70,349.37 L466.95,349.38 L467.20,349.38 L467.45,349.38 L467.70,349.38 L467.95,349.38 L468.20,349.38 L468.45,349.38 L468.70,349.38 L468.95,349.38 L469.20,349.38 L469.45,349.38 L469.70,349.38 L469.95,349.38 L470.20,349.38 L470.45,349.38 L470.70,349.38 L470.95,349.38 L471.20,349.38 L471.45,349.38 L471.70,349.38 L471.95,349.38 L472.20,349.39 L472.45,349.39 L472.70,349.39 L472.95,349.39 L473.20,349.39 L473.45,349.39 L473.70,349.39 L473.95,349.39 L474.20,349.39 L474.45,349.39 L474.70,349.39 L474.95,349.39 L475.20,349.39 L475.45,349.39 L475.70,349.39 L475.95,349.39 L476.20,349.39 L476.45,349.39 L476.70,349.39 L476.95,349.39 L477.20,349.39 L477.45,349.39 L477.70,349.39 L477.95,349.39 L478.20,349.39 L478.45,349.39 L478.70,349.39 L478.95,349.39 L479.20,349.40 L479.45,349.40 L479.70,349.40 L479.95,349.40 L480.20,349.40 L480.45,349.40 L480.70,349.40 L480.95,349.40 L481.20,349.40 L481.45,349.40 L481.70,349.40 L481.95,349.40 L482.20,349.40 L482.45,349.40 L482.70,349.40 L482.95,349.40 L483.20,349.40 L483.45,349.40 L483.70,349.40 L483.95,349.40 L484.20,349.40 L484.45,349.40 L484.70,349.40 L484.95,349.40 L485.20,349.40 L485.45,349.40 L485.70,349.40 L485.95,349.40 L486.20,349.40 L486.45,349.40 L486.70,349.40 L486.95,349.40 L487.20,349.40 L487.45,349.40 L487.70,349.40 L487.95,349.40 L488.20,349.40 L488.45,349.41 L488.70,349.41 L488.95,349.41 L489.20,349.41 L489.45,349.41 L489.70,349.41 L489.95,349.41 L490.20,349.41 L490.45,349.41 L490.70,349.41 L490.95,349.41 L491.20,349.41 L491.45,349.41 L491.70,349.41 L491.95,349.41 L492.20,349.41 L492.45,349.41 L492.70,349.41 L492.95,349.41 L493.20,349.41 L493.45,349.41 L493.70,349.41 L493.95,349.41 L494.20,349.41 L494.45,349.41 L494.70,349.41 L494.95,349.41 L495.20,349.41 L495.45,349.41 L495.70,349.41 L495.95,349.41 L496.20,349.41 L496.45,349.41 L496.70,349.41 L496.95,349.41 L497.20,349.41 L497.45,349.41 L497.70,349.41 L497.95,349.41 L498.20,349.41 L498.45,349.41 L498.70,349.41 L498.95,349.41 L499.20,349.41 L499.45,349.41 L499.70,349.41 L499.95,349.41 L500.20,349.41 L500.45,349.41 L500.70,349.41 L500.95,349.41 L501.20,349.41 L501.45,349.42 L501.70,349.42 L501.95,349.42 L502.20,349.42 L502.45,349.42 L502.70,349.42 L502.95,349.42 L503.20,349.42 L503.45,349.42 L503.70,349.42 L503.95,349.42 L504.20,349.42 L504.45,349.42 L504.70,349.42 L504.95,349.42 L505.20,349.42 L505.45,349.42 L505.70,349.42 L505.95,349.42 L506.20,349.42 L506.45,349.42 L506.70,349.42 L506.95,349.42 L507.20,349.42 L507.45,349.42 L507.70,349.42 L507.95,349.42 L508.20,349.42 L508.45,349.42 L508.70,349.42 L508.95,349.42 L509.20,349.42 L509.45,349.42 L509.70,349.42 L509.95,349.42 L510.20,349.42 L510.45,349.42 L510.70,349.42 L510.95,349.42 L511.20,349.42 L511.45,349.42 L511.70,349.42 L511.95,349.42 L512.20,349.42 L512.45,349.42 L512.70,349.42 L512.95,349.42 L513.20,349.42 L513.45,349.42 L513.70,349.42 L513.95,349.42 L514.20,349.42 L514.45,349.42 L514.70,349.42 L514.95,349.42 L515.20,349.42 L515.45,349.42 L515.70,349.42 L515.95,349.42 L516.20,349.42 L516.45,349.42 L516.70,349.42 L516.95,349.42 L517.20,349.42 L517.45,349.42 L517.70,349.42 L517.95,349.42 L518.20,349.42 L518.45,349.42 L518.70,349.42 L518.95,349.42 L519.20,349.42 L519.45,349.42 L519.70,349.42 L519.95,349.42 L520.20,349.42 L520.45,349.42 L520.70,349.42 L520.95,349.42 L521.20,349.42 L521.45,349.42 L521.70,349.42 L521.95,349.42 L522.20,349.42 L522.45,349.42 L522.70,349.43 L522.95,349.43 L523.20,349.43 L523.45,349.43" fill="none" stroke="#00ffff" stroke-width="3.0" stroke-linejoin="round"/>
<path d="M95.20,349.39 L95.45,349.39 L95.70,349.39 L95.95,349.39 L96.20,349.39 L96.45,349.39 L96.70,349.39 L96.95,349.39 L97.20,349.39 L97.45,349.39 L97.70,349.38 L97.95,349.38 L98.20,349.38 L98.45,349.38 L98.70,349.38 L98.95,349.38 L99.20,349.38 L99.45,349.38 L99.70,349.38 L99.95,349.38 L100.20,349.37 L100.45,349.37 L100.70,349.37 L100.95,349.37 L101.20,349.37 L101.45,349.37 L101.70,349.37 L101.95,349.37 L102.20,349.36 L102.45,349.36 L102.70,349.36 L102.95,349.36 L103.20,349.36 L103.45,349.36 L103.70,349.35 L103.95,349.35 L104.20,349.35 L104.45,349.35 L104.70,349.35 L104.95,349.34 L105.20,349.34 L105.45,349.34 L105.70,349.34 L105.95,349.33 L106.20,349.33 L106.45,349.33 L106.70,349.32 L106.95,349.32 L107.20,349.32 L107.45,349.31 L107.70,349.31 L107.95,349.30 L108.20,349.30 L108.45,349.30 L108.70,349.29 L108.95,349.28 L109.20,349.28 L109.45,349.27 L109.70,349.26 L109.95,349.26 L110.20,349.25 L110.45,349.24 L110.70,349.23 L110.95,349.22 L111.20,349.21 L111.45,349.19 L111.70,349.18 L111.95,349.16 L112.20,349.14 L112.45,349.12 L112.70,349.10 L112.95,349.07 L113.20,349.04 L113.45,349.01 L113.70,348.97 L113.95,348.92 L114.20,348.86 L114.45,348.80 L114.70,348.71 L114.95,348.61 L115.20,348.49 L115.45,348.33 L115.70,348.14 L115.95,347.88 L116.20,347.55 L116.45,347.11 L116.70,346.53 L116.95,345.77 L117.20,344.85 L117.45,343.87 L117.70,343.09 L117.95,342.88 L118.20,343.34 L118.45,344.24 L118.70,345.22 L118.95,346.07 L119.20,346.75 L119.45,347.26 L119.70,347.65 L119.95,347.94 L120.20,348.16 L120.45,348.34 L120.70,348.47 L120.95,348.58 L121.20,348.66 L121.45,348.73 L121.70,348.78 L121.95,348.82 L122.20,348.86 L122.45,348.88 L122.70,348.90 L122.95,348.92 L123.20,348.92 L123.45,348.92 L123.70,348.92 L123.95,348.91 L124.20,348.89 L124.45,348.86 L124.70,348.82 L124.95,348.77 L125.20,348.69 L125.45,348.58 L125.70,348.43 L125.95,348.22 L126.20,347.93 L126.45,347.57 L126.70,347.20 L126.95,346.99 L127.20,347.08 L127.45,347.41 L127.70,347.79 L127.95,348.11 L128.20,348.35 L128.45,348.52 L128.70,348.65 L128.95,348.74 L129.20,348.80 L129.45,348.85 L129.70,348.88 L129.95,348.91 L130.20,348.93 L130.45,348.94 L130.70,348.95 L130.95,348.96 L131.20,348.96 L131.45,348.97 L131.70,348.96 L131.95,348.96 L132.20,348.96 L132.45,348.95 L132.70,348.95 L132.95,348.94 L133.20,348.93 L133.45,348.92 L133.70,348.91 L133.95,348.90 L134.20,348.88 L134.45,348.87 L134.70,348.85 L134.95,348.83 L135.20,348.82 L135.45,348.80 L135.70,348.77 L135.95,348.75 L136.20,348.73 L136.45,348.70 L136.70,348.67 L136.95,348.64 L137.20,348.61 L137.45,348.58 L137.70,348.54 L137.95,348.50 L138.20,348.46 L138.45,348.41 L138.70,348.36 L138.95,348.31 L139.20,348.25 L139.45,348.19 L139.70,348.12 L139.95,348.05 L140.20,347.97 L140.45,347.88 L140.70,347.79 L140.95,347.68 L141.20,347.57 L141.45,347.44 L141.70,347.30 L141.95,347.14 L142.20,346.97 L142.45,346.77 L142.70,346.55 L142.95,346.31 L143.20,346.03 L143.45,345.71 L143.70,345.35 L143.95,344.93 L144.20,344.45 L144.45,343.89 L144.70,343.24 L144.95,342.47 L145.20,341.57 L145.45,340.48 L145.70,339.19 L145.95,337.63 L146.20,335.74 L146.45,333.46 L146.70,330.72 L146.95,327.46 L147.20,323.68 L147.45,319.50 L147.70,315.24 L147.95,311.47 L148.20,308.95 L148.45,308.31 L148.70,309.75 L148.95,312.85 L149.20,316.89 L149.45,321.15 L149.70,325.18 L149.95,328.75 L150.20,331.78 L150.45,334.32 L150.70,336.42 L150.95,338.15 L151.20,339.58 L151.45,340.76 L151.70,341.74 L151.95,342.57 L152.20,343.26 L152.45,343.83 L152.70,344.32 L152.95,344.73 L153.20,345.07 L153.45,345.34 L153.70,345.57 L153.95,345.74 L154.20,345.86 L154.45,345.93 L154.70,345.93 L154.95,345.87 L155.20,345.72 L155.45,345.47 L155.70,345.08 L155.95,344.51 L156.20,343.74 L156.45,342.79 L156.70,341.80 L156.95,341.11 L157.20,341.10 L157.45,341.82 L157.70,342.92 L157.95,344.05 L158.20,345.01 L158.45,345.77 L158.70,346.36 L158.95,346.81 L159.20,347.16 L159.45,347.44 L159.70,347.66 L159.95,347.84 L160.20,347.99 L160.45,348.11 L160.70,348.22 L160.95,348.31 L161.20,348.39 L161.45,348.46 L161.70,348.52 L161.95,348.57 L162.20,348.62 L162.45,348.66 L162.70,348.70 L162.95,348.74 L163.20,348.77 L163.45,348.80 L163.70,348.83 L163.95,348.85 L164.20,348.87 L164.45,348.90 L164.70,348.92 L164.95,348.94 L165.20,348.95 L165.45,348.97 L165.70,348.98 L165.95,349.00 L166.20,349.01 L166.45,349.03 L166.70,349.04 L166.95,349.05 L167.20,349.06 L167.45,349.07 L167.70,349.08 L167.95,349.09 L168.20,349.10 L168.45,349.11 L168.70,349.12 L168.95,349.12 L169.20,349.13 L169.45,349.14 L169.70,349.14 L169.95,349.15 L170.20,349.16 L170.45,349.16 L170.70,349.17 L170.95,349.17 L171.20,349.18 L171.45,349.18 L171.70,349.19 L171.95,349.19 L172.20,349.20 L172.45,349.20 L172.70,349.20 L172.95,349.21 L173.20,349.21 L173.45,349.21 L173.70,349.22 L173.95,349.22 L174.20,349.22 L174.45,349.23 L174.70,349.23 L174.95,349.23 L175.20,349.23 L175.45,349.24 L175.70,349.24 L175.95,349.24 L176.20,349.24 L176.45,349.24 L176.70,349.24 L176.95,349.24 L177.20,349.25 L177.45,349.25 L177.70,349.25 L177.95,349.25 L178.20,349.25 L178.45,349.25 L178.70,349.25 L178.95,349.25 L179.20,349.25 L179.45,349.25 L179.70,349.25 L179.95,349.25 L180.20,349.25 L180.45,349.25 L180.70,349.25 L180.95,349.25 L181.20,349.25 L181.45,349.25 L181.70,349.24 L181.95,349.24 L182.20,349.24 L182.45,349.24 L182.70,349.24 L182.95,349.23 L183.20,349.23 L183.45,349.23 L183.70,349.23 L183.95,349.22 L184.20,349.22 L184.45,349.21 L184.70,349.21 L184.95,349.20 L185.20,349.20 L185.45,349.19 L185.70,349.19 L185.95,349.18 L186.20,349.17 L186.45,349.16 L186.70,349.16 L186.95,349.15 L187.20,349.13 L187.45,349.12 L187.70,349.11 L187.95,349.10 L188.20,349.08 L188.45,349.06 L188.70,349.05 L188.95,349.02 L189.20,349.00 L189.45,348.98 L189.70,348.95 L189.95,348.92 L190.20,348.88 L190.45,348.84 L190.70,348.79 L190.95,348.74 L191.20,348.68 L191.45,348.62 L191.70,348.54 L191.95,348.45 L192.20,348.34 L192.45,348.21 L192.70,348.06 L192.95,347.88 L193.20,347.66 L193.45,347.39 L193.70,347.06 L193.95,346.64 L194.20,346.11 L194.45,345.43 L194.70,344.55 L194.95,343.42 L195.20,341.99 L195.45,340.22 L195.70,338.25 L195.95,336.42 L196.20,335.33 L196.45,335.46 L196.70,336.75 L196.95,338.65 L197.20,340.60 L197.45,342.30 L197.70,343.68 L197.95,344.75 L198.20,345.58 L198.45,346.23 L198.70,346.73 L198.95,347.13 L199.20,347.45 L199.45,347.71 L199.70,347.92 L199.95,348.10 L200.20,348.24 L200.45,348.37 L200.70,348.47 L200.95,348.56 L201.20,348.64 L201.45,348.70 L201.70,348.76 L201.95,348.81 L202.20,348.86 L202.45,348.90 L202.70,348.93 L202.95,348.96 L203.20,348.99 L203.45,349.02 L203.70,349.04 L203.95,349.06 L204.20,349.08 L204.45,349.10 L204.70,349.11 L204.95,349.13 L205.20,349.14 L205.45,349.15 L205.70,349.16 L205.95,349.17 L206.20,349.18 L206.45,349.19 L206.70,349.20 L206.95,349.20 L207.20,349.21 L207.45,349.21 L207.70,349.22 L207.95,349.22 L208.20,349.23 L208.45,349.23 L208.70,349.24 L208.95,349.24 L209.20,349.24 L209.45,349.25 L209.70,349.25 L209.95,349.25 L210.20,349.25 L210.45,349.25 L210.70,349.25 L210.95,349.25 L211.20,349.25 L211.45,349.25 L211.70,349.25 L211.95,349.25 L212.20,349.25 L212.45,349.25 L212.70,349.25 L212.95,349.25 L213.20,349.24 L213.45,349.24 L213.70,349.24 L213.95,349.23 L214.20,349.23 L214.45,349.22 L214.70,349.22 L214.95,349.21 L215.20,349.20 L215.45,349.19 L215.70,349.18 L215.95,349.17 L216.20,349.16 L216.45,349.14 L216.70,349.13 L216.95,349.11 L217.20,349.09 L217.45,349.06 L217.70,349.03 L217.95,349.00 L218.20,348.96 L218.45,348.91 L218.70,348.86 L218.95,348.79 L219.20,348.71 L219.45,348.61 L219.70,348.49 L219.95,348.34 L220.20,348.15 L220.45,347.90 L220.70,347.58 L220.95,347.16 L221.20,346.60 L221.45,345.87 L221.70,344.95 L221.95,343.89 L222.20,342.92 L222.45,342.41 L222.70,342.63 L222.95,343.47 L223.20,344.53 L223.45,345.51 L223.70,346.32 L223.95,346.94 L224.20,347.41 L224.45,347.76 L224.70,348.03 L224.95,348.24 L225.20,348.40 L225.45,348.52 L225.70,348.62 L225.95,348.70 L226.20,348.77 L226.45,348.81 L226.70,348.85 L226.95,348.88 L227.20,348.90 L227.45,348.91 L227.70,348.91 L227.95,348.91 L228.20,348.89 L228.45,348.86 L228.70,348.81 L228.95,348.74 L229.20,348.64 L229.45,348.49 L229.70,348.28 L229.95,347.99 L230.20,347.61 L230.45,347.20 L230.70,346.93 L230.95,346.97 L231.20,347.30 L231.45,347.72 L231.70,348.10 L231.95,348.38 L232.20,348.59 L232.45,348.74 L232.70,348.85 L232.95,348.94 L233.20,349.00 L233.45,349.05 L233.70,349.08 L233.95,349.12 L234.20,349.14 L234.45,349.16 L234.70,349.18 L234.95,349.19 L235.20,349.20 L235.45,349.21 L235.70,349.22 L235.95,349.23 L236.20,349.23 L236.45,349.24 L236.70,349.24 L236.95,349.24 L237.20,349.25 L237.45,349.25 L237.70,349.25 L237.95,349.25 L238.20,349.25 L238.45,349.25 L238.70,349.25 L238.95,349.25 L239.20,349.25 L239.45,349.25 L239.70,349.25 L239.95,349.25 L240.20,349.24 L240.45,349.24 L240.70,349.24 L240.95,349.23 L241.20,349.23 L241.45,349.23 L241.70,349.22 L241.95,349.22 L242.20,349.21 L242.45,349.21 L242.70,349.20 L242.95,349.19 L243.20,349.18 L243.45,349.18 L243.70,349.17 L243.95,349.16 L244.20,349.15 L244.45,349.14 L244.70,349.12 L244.95,349.11 L245.20,349.10 L245.45,349.08 L245.70,349.06 L245.95,349.04 L246.20,349.02 L246.45,349.00 L246.70,348.97 L246.95,348.95 L247.20,348.92 L247.45,348.88 L247.70,348.84 L247.95,348.80 L248.20,348.75 L248.45,348.70 L248.70,348.64 L248.95,348.57 L249.20,348.49 L249.45,348.40 L249.70,348.29 L249.95,348.17 L250.20,348.02 L250.45,347.84 L250.70,347.63 L250.95,347.38 L251.20,347.07 L251.45,346.68 L251.70,346.19 L251.95,345.57 L252.20,344.76 L252.45,343.71 L252.70,342.32 L252.95,340.48 L253.20,338.12 L253.45,335.29 L253.70,332.38 L253.95,330.30 L254.20,330.07 L254.45,331.79 L254.70,334.58 L254.95,337.42 L255.20,339.83 L255.45,341.71 L255.70,343.11 L255.95,344.14 L256.20,344.90 L256.45,345.44 L256.70,345.81 L256.95,346.05 L257.20,346.16 L257.45,346.14 L257.70,345.99 L257.95,345.68 L258.20,345.18 L258.45,344.44 L258.70,343.46 L258.95,342.36 L259.20,341.47 L259.45,341.27 L259.70,341.93 L259.95,343.09 L260.20,344.32 L260.45,345.36 L260.70,346.17 L260.95,346.78 L261.20,347.24 L261.45,347.60 L261.70,347.87 L261.95,348.08 L262.20,348.25 L262.45,348.39 L262.70,348.50 L262.95,348.60 L263.20,348.68 L263.45,348.75 L263.70,348.80 L263.95,348.85 L264.20,348.90 L264.45,348.94 L264.70,348.97 L264.95,349.00 L265.20,349.03 L265.45,349.05 L265.70,349.07 L265.95,349.09 L266.20,349.11 L266.45,349.13 L266.70,349.14 L266.95,349.16 L267.20,349.17 L267.45,349.18 L267.70,349.19 L267.95,349.20 L268.20,349.21 L268.45,349.22 L268.70,349.23 L268.95,349.24 L269.20,349.24 L269.45,349.25 L269.70,349.26 L269.95,349.26 L270.20,349.27 L270.45,349.27 L270.70,349.28 L270.95,349.28 L271.20,349.29 L271.45,349.29 L271.70,349.29 L271.95,349.30 L272.20,349.30 L272.45,349.30 L272.70,349.31 L272.95,349.31 L273.20,349.31 L273.45,349.31 L273.70,349.32 L273.95,349.32 L274.20,349.32 L274.45,349.32 L274.70,349.33 L274.95,349.33 L275.20,349.33 L275.45,349.33 L275.70,349.33 L275.95,349.33 L276.20,349.34 L276.45,349.34 L276.70,349.34 L276.95,349.34 L277.20,349.34 L277.45,349.34 L277.70,349.34 L277.95,349.34 L278.20,349.34 L278.45,349.34 L278.70,349.35 L278.95,349.35 L279.20,349.35 L279.45,349.35 L279.70,349.35 L279.95,349.35 L280.20,349.35 L280.45,349.35 L280.70,349.35 L280.95,349.35 L281.20,349.35 L281.45,349.35 L281.70,349.35 L281.95,349.35 L282.20,349.35 L282.45,349.35 L282.70,349.35 L282.95,349.35 L283.20,349.35 L283.45,349.35 L283.70,349.35 L283.95,349.35 L284.20,349.35 L284.45,349.35 L284.70,349.35 L284.95,349.34 L285.20,349.34 L285.45,349.34 L285.70,349.34 L285.95,349.34 L286.20,349.34 L286.45,349.34 L286.70,349.34 L286.95,349.34 L287.20,349.33 L287.45,349.33 L287.70,349.33 L287.95,349.33 L288.20,349.33 L288.45,349.33 L288.70,349.32 L288.95,349.32 L289.20,349.32 L289.45,349.32 L289.70,349.31 L289.95,349.31 L290.20,349.31 L290.45,349.30 L290.70,349.30 L290.95,349.30 L291.20,349.29 L291.45,349.29 L291.70,349.28 L291.95,349.28 L292.20,349.27 L292.45,349.27 L292.70,349.26 L292.95,349.26 L293.20,349.25 L293.45,349.24 L293.70,349.23 L293.95,349.22 L294.20,349.22 L294.45,349.20 L294.70,349.19 L294.95,349.18 L295.20,349.17 L295.45,349.16 L295.70,349.14 L295.95,349.12 L296.20,349.10 L296.45,349.08 L296.70,349.06 L296.95,349.04 L297.20,349.01 L297.45,348.98 L297.70,348.94 L297.95,348.90 L298.20,348.86 L298.45,348.81 L298.70,348.75 L298.95,348.69 L299.20,348.61 L299.45,348.52 L299.70,348.42 L299.95,348.30 L300.20,348.15 L300.45,347.98 L300.70,347.77 L300.95,347.51 L301.20,347.19 L301.45,346.79 L301.70,346.28 L301.95,345.63 L302.20,344.79 L302.45,343.71 L302.70,342.33 L302.95,340.64 L303.20,338.75 L303.45,337.00 L303.70,335.96 L303.95,336.08 L304.20,337.32 L304.45,339.14 L304.70,341.00 L304.95,342.63 L305.20,343.94 L305.45,344.97 L305.70,345.77 L305.95,346.39 L306.20,346.87 L306.45,347.25 L306.70,347.56 L306.95,347.81 L307.20,348.01 L307.45,348.18 L307.70,348.32 L307.95,348.43 L308.20,348.53 L308.45,348.62 L308.70,348.69 L308.95,348.75 L309.20,348.81 L309.45,348.86 L309.70,348.90 L309.95,348.94 L310.20,348.97 L310.45,349.00 L310.70,349.02 L310.95,349.05 L311.20,349.07 L311.45,349.09 L311.70,349.10 L311.95,349.12 L312.20,349.13 L312.45,349.15 L312.70,349.16 L312.95,349.17 L313.20,349.18 L313.45,349.19 L313.70,349.19 L313.95,349.20 L314.20,349.21 L314.45,349.21 L314.70,349.22 L314.95,349.22 L315.20,349.22 L315.45,349.23 L315.70,349.23 L315.95,349.23 L316.20,349.23 L316.45,349.23 L316.70,349.23 L316.95,349.23 L317.20,349.23 L317.45,349.23 L317.70,349.23 L317.95,349.23 L318.20,349.22 L318.45,349.22 L318.70,349.22 L318.95,349.21 L319.20,349.20 L319.45,349.20 L319.70,349.19 L319.95,349.18 L320.20,349.17 L320.45,349.16 L320.70,349.14 L320.95,349.13 L321.20,349.11 L321.45,349.09 L321.70,349.07 L321.95,349.04 L322.20,349.01 L322.45,348.97 L322.70,348.93 L322.95,348.87 L323.20,348.81 L323.45,348.74 L323.70,348.65 L323.95,348.54 L324.20,348.41 L324.45,348.24 L324.70,348.03 L324.95,347.75 L325.20,347.40 L325.45,346.92 L325.70,346.30 L325.95,345.49 L326.20,344.46 L326.45,343.28 L326.70,342.19 L326.95,341.62 L327.20,341.87 L327.45,342.80 L327.70,343.98 L327.95,345.08 L328.20,345.98 L328.45,346.67 L328.70,347.19 L328.95,347.58 L329.20,347.88 L329.45,348.11 L329.70,348.28 L329.95,348.42 L330.20,348.52 L330.45,348.60 L330.70,348.66 L330.95,348.70 L331.20,348.72 L331.45,348.73 L331.70,348.72 L331.95,348.69 L332.20,348.63 L332.45,348.53 L332.70,348.39 L332.95,348.17 L333.20,347.87 L333.45,347.49 L333.70,347.10 L333.95,346.89 L334.20,347.00 L334.45,347.37 L334.70,347.80 L334.95,348.16 L335.20,348.43 L335.45,348.63 L335.70,348.78 L335.95,348.89 L336.20,348.97 L336.45,349.03 L336.70,349.08 L336.95,349.12 L337.20,349.15 L337.45,349.18 L337.70,349.20 L337.95,349.22 L338.20,349.23 L338.45,349.25 L338.70,349.26 L338.95,349.27 L339.20,349.28 L339.45,349.29 L339.70,349.29 L339.95,349.30 L340.20,349.30 L340.45,349.31 L340.70,349.31 L340.95,349.32 L341.20,349.32 L341.45,349.33 L341.70,349.33 L341.95,349.33 L342.20,349.33 L342.45,349.34 L342.70,349.34 L342.95,349.34 L343.20,349.34 L343.45,349.34 L343.70,349.35 L343.95,349.35 L344.20,349.35 L344.45,349.35 L344.70,349.35 L344.95,349.35 L345.20,349.35 L345.45,349.35 L345.70,349.35 L345.95,349.35 L346.20,349.35 L346.45,349.35 L346.70,349.35 L346.95,349.35 L347.20,349.35 L347.45,349.35 L347.70,349.35 L347.95,349.35 L348.20,349.35 L348.45,349.35 L348.70,349.35 L348.95,349.35 L349.20,349.34 L349.45,349.34 L349.70,349.34 L349.95,349.34 L350.20,349.34 L350.45,349.33 L350.70,349.33 L350.95,349.33 L351.20,349.33 L351.45,349.32 L351.70,349.32 L351.95,349.32 L352.20,349.31 L352.45,349.31 L352.70,349.30 L352.95,349.29 L353.20,349.29 L353.45,349.28 L353.70,349.27 L353.95,349.26 L354.20,349.26 L354.45,349.24 L354.70,349.23 L354.95,349.22 L355.20,349.20 L355.45,349.19 L355.70,349.17 L355.95,349.15 L356.20,349.12 L356.45,349.09 L356.70,349.06 L356.95,349.02 L357.20,348.97 L357.45,348.92 L357.70,348.85 L357.95,348.77 L358.20,348.68 L358.45,348.56 L358.70,348.41 L358.95,348.22 L359.20,347.98 L359.45,347.67 L359.70,347.26 L359.95,346.72 L360.20,346.00 L360.45,345.09 L360.70,344.02 L360.95,342.98 L361.20,342.33 L361.45,342.41 L361.70,343.17 L361.95,344.25 L362.20,345.29 L362.45,346.16 L362.70,346.84 L362.95,347.35 L363.20,347.74 L363.45,348.04 L363.70,348.27 L363.95,348.44 L364.20,348.59 L364.45,348.70 L364.70,348.79 L364.95,348.87 L365.20,348.93 L365.45,348.99 L365.70,349.03 L365.95,349.07 L366.20,349.10 L366.45,349.13 L366.70,349.15 L366.95,349.18 L367.20,349.20 L367.45,349.21 L367.70,349.23 L367.95,349.24 L368.20,349.25 L368.45,349.26 L368.70,349.27 L368.95,349.28 L369.20,349.29 L369.45,349.30 L369.70,349.31 L369.95,349.31 L370.20,349.32 L370.45,349.32 L370.70,349.33 L370.95,349.33 L371.20,349.34 L371.45,349.34 L371.70,349.34 L371.95,349.35 L372.20,349.35 L372.45,349.35 L372.70,349.35 L372.95,349.36 L373.20,349.36 L373.45,349.36 L373.70,349.36 L373.95,349.36 L374.20,349.37 L374.45,349.37 L374.70,349.37 L374.95,349.37 L375.20,349.37 L375.45,349.37 L375.70,349.37 L375.95,349.38 L376.20,349.38 L376.45,349.38 L376.70,349.38 L376.95,349.38 L377.20,349.38 L377.45,349.38 L377.70,349.38 L377.95,349.38 L378.20,349.38 L378.45,349.38 L378.70,349.38 L378.95,349.38 L379.20,349.38 L379.45,349.39 L379.70,349.39 L379.95,349.39 L380.20,349.39 L380.45,349.39 L380.70,349.39 L380.95,349.39 L381.20,349.39 L381.45,349.39 L381.70,349.39 L381.95,349.39 L382.20,349.39 L382.45,349.39 L382.70,349.39 L382.95,349.39 L383.20,349.39 L383.45,349.39 L383.70,349.39 L383.95,349.39 L384.20,349.39 L384.45,349.39 L384.70,349.39 L384.95,349.39 L385.20,349.39 L385.45,349.39 L385.70,349.39 L385.95,349.39 L386.20,349.38 L386.45,349.38 L386.70,349.38 L386.95,349.38 L387.20,349.38 L387.45,349.38 L387.70,349.38 L387.95,349.38 L388.20,349.38 L388.45,349.38 L388.70,349.38 L388.95,349.38 L389.20,349.38 L389.45,349.38 L389.70,349.38 L389.95,349.38 L390.20,349.37 L390.45,349.37 L390.70,349.37 L390.95,349.37 L391.20,349.37 L391.45,349.37 L391.70,349.37 L391.95,349.37 L392.20,349.37 L392.45,349.36 L392.70,349.36 L392.95,349.36 L393.20,349.36 L393.45,349.36 L393.70,349.36 L393.95,349.36 L394.20,349.35 L394.45,349.35 L394.70,349.35 L394.95,349.35 L395.20,349.35 L395.45,349.34 L395.70,349.34 L395.95,349.34 L396.20,349.34 L396.45,349.33 L396.70,349.33 L396.95,349.33 L397.20,349.32 L397.45,349.32 L397.70,349.32 L397.95,349.31 L398.20,349.31 L398.45,349.30 L398.70,349.30 L398.95,349.29 L399.20,349.29 L399.45,349.28 L399.70,349.28 L399.95,349.27 L400.20,349.27 L400.45,349.26 L400.70,349.25 L400.95,349.24 L401.20,349.23 L401.45,349.22 L401.70,349.21 L401.95,349.20 L402.20,349.19 L402.45,349.18 L402.70,349.16 L402.95,349.15 L403.20,349.13 L403.45,349.11 L403.70,349.09 L403.95,349.07 L404.20,349.04 L404.45,349.02 L404.70,348.99 L404.95,348.95 L405.20,348.91 L405.45,348.87 L405.70,348.82 L405.95,348.77 L406.20,348.70 L406.45,348.63 L406.70,348.54 L406.95,348.44 L407.20,348.32 L407.45,348.18 L407.70,348.02 L407.95,347.81 L408.20,347.56 L408.45,347.26 L408.70,346.87 L408.95,346.39 L409.20,345.77 L409.45,344.97 L409.70,343.94 L409.95,342.63 L410.20,341.00 L410.45,339.13 L410.70,337.31 L410.95,336.08 L411.20,335.95 L411.45,337.00 L411.70,338.75 L411.95,340.63 L412.20,342.32 L412.45,343.70 L412.70,344.78 L412.95,345.62 L413.20,346.27 L413.45,346.77 L413.70,347.17 L413.95,347.49 L414.20,347.75 L414.45,347.96 L414.70,348.13 L414.95,348.28 L415.20,348.40 L415.45,348.50 L415.70,348.58 L415.95,348.66 L416.20,348.72 L416.45,348.78 L416.70,348.83 L416.95,348.87 L417.20,348.91 L417.45,348.94 L417.70,348.97 L417.95,349.00 L418.20,349.02 L418.45,349.04 L418.70,349.06 L418.95,349.07 L419.20,349.09 L419.45,349.10 L419.70,349.11 L419.95,349.12 L420.20,349.13 L420.45,349.14 L420.70,349.15 L420.95,349.15 L421.20,349.16 L421.45,349.16 L421.70,349.16 L421.95,349.17 L422.20,349.17 L422.45,349.17 L422.70,349.17 L422.95,349.17 L423.20,349.17 L423.45,349.16 L423.70,349.16 L423.95,349.15 L424.20,349.15 L424.45,349.14 L424.70,349.13 L424.95,349.13 L425.20,349.11 L425.45,349.10 L425.70,349.09 L425.95,349.07 L426.20,349.05 L426.45,349.03 L426.70,349.00 L426.95,348.97 L427.20,348.94 L427.45,348.90 L427.70,348.85 L427.95,348.80 L428.20,348.73 L428.45,348.65 L428.70,348.56 L428.95,348.44 L429.20,348.29 L429.45,348.11 L429.70,347.88 L429.95,347.59 L430.20,347.20 L430.45,346.69 L430.70,346.02 L430.95,345.14 L431.20,344.03 L431.45,342.76 L431.70,341.59 L431.95,340.97 L432.20,341.24 L432.45,342.24 L432.70,343.50 L432.95,344.69 L433.20,345.65 L433.45,346.39 L433.70,346.94 L433.95,347.36 L434.20,347.67 L434.45,347.91 L434.70,348.08 L434.95,348.21 L435.20,348.31 L435.45,348.37 L435.70,348.39 L435.95,348.39 L436.20,348.35 L436.45,348.27 L436.70,348.13 L436.95,347.91 L437.20,347.60 L437.45,347.20 L437.70,346.78 L437.95,346.56 L438.20,346.69 L438.45,347.09 L438.70,347.56 L438.95,347.95 L439.20,348.25 L439.45,348.47 L439.70,348.63 L439.95,348.75 L440.20,348.84 L440.45,348.91 L440.70,348.96 L440.95,349.01 L441.20,349.04 L441.45,349.07 L441.70,349.09 L441.95,349.11 L442.20,349.13 L442.45,349.14 L442.70,349.15 L442.95,349.16 L443.20,349.17 L443.45,349.18 L443.70,349.19 L443.95,349.19 L444.20,349.20 L444.45,349.20 L444.70,349.20 L444.95,349.20 L445.20,349.21 L445.45,349.21 L445.70,349.21 L445.95,349.21 L446.20,349.21 L446.45,349.21 L446.70,349.21 L446.95,349.20 L447.20,349.20 L447.45,349.20 L447.70,349.20 L447.95,349.19 L448.20,349.19 L448.45,349.19 L448.70,349.18 L448.95,349.18 L449.20,349.17 L449.45,349.17 L449.70,349.16 L449.95,349.15 L450.20,349.15 L450.45,349.14 L450.70,349.13 L450.95,349.12 L451.20,349.11 L451.45,349.10 L451.70,349.09 L451.95,349.08 L452.20,349.06 L452.45,349.05 L452.70,349.04 L452.95,349.02 L453.20,349.00 L453.45,348.98 L453.70,348.96 L453.95,348.94 L454.20,348.92 L454.45,348.89 L454.70,348.86 L454.95,348.83 L455.20,348.80 L455.45,348.76 L455.70,348.72 L455.95,348.68 L456.20,348.63 L456.45,348.58 L456.70,348.52 L456.95,348.45 L457.20,348.38 L457.45,348.30 L457.70,348.21 L457.95,348.10 L458.20,347.99 L458.45,347.85 L458.70,347.70 L458.95,347.53 L459.20,347.32 L459.45,347.08 L459.70,346.80 L459.95,346.47 L460.20,346.08 L460.45,345.60 L460.70,345.02 L460.95,344.31 L461.20,343.43 L461.45,342.33 L461.70,340.95 L461.95,339.19 L462.20,336.98 L462.45,334.23 L462.70,330.95 L462.95,327.34 L463.20,323.98 L463.45,321.77 L463.70,321.55 L463.95,323.41 L464.20,326.62 L464.45,330.24 L464.70,333.61 L464.95,336.47 L465.20,338.79 L465.45,340.63 L465.70,342.08 L465.95,343.24 L466.20,344.16 L466.45,344.90 L466.70,345.50 L466.95,346.00 L467.20,346.41 L467.45,346.75 L467.70,347.04 L467.95,347.28 L468.20,347.50 L468.45,347.68 L468.70,347.83 L468.95,347.97 L469.20,348.09 L469.45,348.20 L469.70,348.29 L469.95,348.38 L470.20,348.45 L470.45,348.52 L470.70,348.58 L470.95,348.64 L471.20,348.69 L471.45,348.73 L471.70,348.77 L471.95,348.81 L472.20,348.85 L472.45,348.88 L472.70,348.91 L472.95,348.93 L473.20,348.96 L473.45,348.98 L473.70,349.00 L473.95,349.02 L474.20,349.04 L474.45,349.06 L474.70,349.07 L474.95,349.09 L475.20,349.10 L475.45,349.12 L475.70,349.13 L475.95,349.14 L476.20,349.15 L476.45,349.16 L476.70,349.17 L476.95,349.18 L477.20,349.19 L477.45,349.20 L477.70,349.21 L477.95,349.21 L478.20,349.22 L478.45,349.23 L478.70,349.23 L478.95,349.24 L479.20,349.25 L479.45,349.25 L479.70,349.26 L479.95,349.26 L480.20,349.27 L480.45,349.27 L480.70,349.28 L480.95,349.28 L481.20,349.28 L481.45,349.29 L481.70,349.29 L481.95,349.30 L482.20,349.30 L482.45,349.30 L482.70,349.31 L482.95,349.31 L483.20,349.31 L483.45,349.31 L483.70,349.32 L483.95,349.32 L484.20,349.32 L484.45,349.32 L484.70,349.33 L484.95,349.33 L485.20,349.33 L485.45,349.33 L485.70,349.33 L485.95,349.34 L486.20,349.34 L486.45,349.34 L486.70,349.34 L486.95,349.34 L487.20,349.34 L487.45,349.34 L487.70,349.35 L487.95,349.35 L488.20,349.35 L488.45,349.35 L488.70,349.35 L488.95,349.35 L489.20,349.35 L489.45,349.35 L489.70,349.35 L489.95,349.36 L490.20,349.36 L490.45,349.36 L490.70,349.36 L490.95,349.36 L491.20,349.36 L491.45,349.36 L491.70,349.36 L491.95,349.36 L492.20,349.36 L492.45,349.36 L492.70,349.36 L492.95,349.36 L493.20,349.36 L493.45,349.36 L493.70,349.36 L493.95,349.36 L494.20,349.36 L494.45,349.36 L494.70,349.36 L494.95,349.36 L495.20,349.36 L495.45,349.36 L495.70,349.36 L495.95,349.36 L496.20,349.36 L496.45,349.36 L496.70,349.36 L496.95,349.36 L497.20,349.36 L497.45,349.36 L497.70,349.36 L497.95,349.36 L498.20,349.36 L498.45,349.36 L498.70,349.36 L498.95,349.36 L499.20,349.36 L499.45,349.36 L499.70,349.36 L499.95,349.36 L500.20,349.36 L500.45,349.35 L500.70,349.35 L500.95,349.35 L501.20,349.35 L501.45,349.35 L501.70,349.35 L501.95,349.35 L502.20,349.34 L502.45,349.34 L502.70,349.34 L502.95,349.34 L503.20,349.34 L503.45,349.33 L503.70,349.33 L503.95,349.33 L504.20,349.33 L504.45,349.32 L504.70,349.32 L504.95,349.32 L505.20,349.31 L505.45,349.31 L505.70,349.31 L505.95,349.30 L506.20,349.30 L506.45,349.29 L506.70,349.29 L506.95,349.28 L507.20,349.27 L507.45,349.27 L507.70,349.26 L507.95,349.25 L508.20,349.25 L508.45,349.24 L508.70,349.23 L508.95,349.22 L509.20,349.20 L509.45,349.19 L509.70,349.18 L509.95,349.16 L510.20,349.15 L510.45,349.13 L510.70,349.11 L510.95,349.09 L511.20,349.06 L511.45,349.04 L511.70,349.01 L511.95,348.97 L512.20,348.94 L512.45,348.89 L512.70,348.84 L512.95,348.79 L513.20,348.72 L513.45,348.65 L513.70,348.56 L513.95,348.46 L514.20,348.34 L514.45,348.20 L514.70,348.02 L514.95,347.82 L515.20,347.56 L515.45,347.24 L515.70,346.84 L515.95,346.33 L516.20,345.67 L516.45,344.83 L516.70,343.74 L516.95,342.37 L517.20,340.70 L517.45,338.89 L517.70,337.30 L517.95,336.50 L518.20,336.86 L518.45,338.20 L518.70,339.98 L518.95,341.73 L519.20,343.23 L519.45,344.43 L519.70,345.36 L519.95,346.09 L520.20,346.65 L520.45,347.09 L520.70,347.44 L520.95,347.72 L521.20,347.95 L521.45,348.14 L521.70,348.29 L521.95,348.42 L522.20,348.53 L522.45,348.62 L522.70,348.70 L522.95,348.77 L523.20,348.83 L523.45,348.88" fill="none" stroke="#006400" stroke-width="3.0" stroke-linejoin="round"/>
</g>
<path d="M95.2,349.00 L523.6,349.00" fill="none" stroke="#ff0000" stroke-width="2.20"/>
<path clip-path="url(#cr)" d="M95.20,349.40 L95.45,349.40 L95.70,349.40 L95.95,349.40 L96.20,349.40 L96.45,349.40 L96.70,349.40 L96.95,349.40 L97.20,349.40 L97.45,349.40 L97.70,349.40 L97.95,349.40 L98.20,349.40 L98.45,349.40 L98.70,349.40 L98.95,349.40 L99.20,349.40 L99.45,349.40 L99.70,349.40 L99.95,349.40 L100.20,349.40 L100.45,349.40 L100.70,349.40 L100.95,349.40 L101.20,349.40 L101.45,349.40 L101.70,349.40 L101.95,349.40 L102.20,349.40 L102.45,349.40 L102.70,349.40 L102.95,349.40 L103.20,349.40 L103.45,349.40 L103.70,349.40 L103.95,349.40 L104.20,349.40 L104.45,349.40 L104.70,349.40 L104.95,349.40 L105.20,349.40 L105.45,349.40 L105.70,349.40 L105.95,349.40 L106.20,349.40 L106.45,349.40 L106.70,349.40 L106.95,349.40 L107.20,349.40 L107.45,349.40 L107.70,349.40 L107.95,349.40 L108.20,349.40 L108.45,349.40 L108.70,349.40 L108.95,349.40 L109.20,349.40 L109.45,349.40 L109.70,349.40 L109.95,349.40 L110.20,349.40 L110.45,349.40 L110.70,349.40 L110.95,349.40 L111.20,349.40 L111.45,349.40 L111.70,349.40 L111.95,349.40 L112.20,349.40 L112.45,349.40 L112.70,349.40 L112.95,349.40 L113.20,349.40 L113.45,349.40 L113.70,349.40 L113.95,349.40 L114.20,349.40 L114.45,349.40 L114.70,349.40 L114.95,349.40 L115.20,349.40 L115.45,349.40 L115.70,349.40 L115.95,349.40 L116.20,349.40 L116.45,349.40 L116.70,349.40 L116.95,349.40 L117.20,349.40 L117.45,349.40 L117.70,349.40 L117.95,349.40 L118.20,349.40 L118.45,349.40 L118.70,349.40 L118.95,349.40 L119.20,349.40 L119.45,349.40 L119.70,349.40 L119.95,349.40 L120.20,349.40 L120.45,349.40 L120.70,349.40 L120.95,349.40 L121.20,349.40 L121.45,349.40 L121.70,349.40 L121.95,349.40 L122.20,349.40 L122.45,349.40 L122.70,349.40 L122.95,349.40 L123.20,349.40 L123.45,349.40 L123.70,349.40 L123.95,349.40 L124.20,349.40 L124.45,349.40 L124.70,349.40 L124.95,349.40 L125.20,349.40 L125.45,349.40 L125.70,349.40 L125.95,349.40 L126.20,349.40 L126.45,349.40 L126.70,349.40 L126.95,349.40 L127.20,349.40 L127.45,349.40 L127.70,349.40 L127.95,349.40 L128.20,349.40 L128.45,349.40 L128.70,349.40 L128.95,349.40 L129.20,349.40 L129.45,349.40 L129.70,349.40 L129.95,349.40 L130.20,349.40 L130.45,349.40 L130.70,349.40 L130.95,349.40 L131.20,349.40 L131.45,349.40 L131.70,349.40 L131.95,349.40 L132.20,349.40 L132.45,349.40 L132.70,349.40 L132.95,349.40 L133.20,349.40 L133.45,349.40 L133.70,349.40 L133.95,349.40 L134.20,349.40 L134.45,349.40 L134.70,349.40 L134.95,349.40 L135.20,349.40 L135.45,349.40 L135.70,349.40 L135.95,349.40 L136.20,349.40 L136.45,349.40 L136.70,349.40 L136.95,349.40 L137.20,349.40 L137.45,349.40 L137.70,349.40 L137.95,349.40 L138.20,349.40 L138.45,349.40 L138.70,349.40 L138.95,349.40 L139.20,349.40 L139.45,349.40 L139.70,349.40 L139.95,349.40 L140.20,349.40 L140.45,349.40 L140.70,349.40 L140.95,349.40 L141.20,349.40 L141.45,349.40 L141.70,349.40 L141.95,349.40 L142.20,349.40 L142.45,349.40 L142.70,349.40 L142.95,349.40 L143.20,349.40 L143.45,349.40 L143.70,349.40 L143.95,349.40 L144.20,349.40 L144.45,349.40 L144.70,349.40 L144.95,349.40 L145.20,349.40 L145.45,349.40 L145.70,349.40 L145.95,349.40 L146.20,349.40 L146.45,349.40 L146.70,349.40 L146.95,349.40 L147.20,349.40 L147.45,349.40 L147.70,349.40 L147.95,349.40 L148.20,349.40 L148.45,349.40 L148.70,349.40 L148.95,349.40 L149.20,349.40 L149.45,349.40 L149.70,349.40 L149.95,349.40 L150.20,349.40 L150.45,349.40 L150.70,349.40 L150.95,349.40 L151.20,349.40 L151.45,349.40 L151.70,349.40 L151.95,349.40 L152.20,349.40 L152.45,349.40 L152.70,349.40 L152.95,349.40 L153.20,349.40 L153.45,349.40 L153.70,349.40 L153.95,349.40 L154.20,349.40 L154.45,349.40 L154.70,349.40 L154.95,349.40 L155.20,349.40 L155.45,349.40 L155.70,349.40 L155.95,349.40 L156.20,349.40 L156.45,349.40 L156.70,349.40 L156.95,349.40 L157.20,349.40 L157.45,349.40 L157.70,349.40 L157.95,349.40 L158.20,349.40 L158.45,349.40 L158.70,349.40 L158.95,349.40 L159.20,349.40 L159.45,349.40 L159.70,349.40 L159.95,349.40 L160.20,349.40 L160.45,349.40 L160.70,349.40 L160.95,349.40 L161.20,349.40 L161.45,349.40 L161.70,349.40 L161.95,349.40 L162.20,349.40 L162.45,349.40 L162.70,349.40 L162.95,349.40 L163.20,349.40 L163.45,349.40 L163.70,349.40 L163.95,349.40 L164.20,349.40 L164.45,349.40 L164.70,349.40 L164.95,349.40 L165.20,349.40 L165.45,349.40 L165.70,349.40 L165.95,349.40 L166.20,349.40 L166.45,349.40 L166.70,349.40 L166.95,349.40 L167.20,349.40 L167.45,349.40 L167.70,349.40 L167.95,349.40 L168.20,349.40 L168.45,349.40 L168.70,349.40 L168.95,349.40 L169.20,349.39 L169.45,349.39 L169.70,349.39 L169.95,349.39 L170.20,349.39 L170.45,349.39 L170.70,349.39 L170.95,349.39 L171.20,349.39 L171.45,349.39 L171.70,349.39 L171.95,349.39 L172.20,349.39 L172.45,349.39 L172.70,349.39 L172.95,349.39 L173.20,349.39 L173.45,349.39 L173.70,349.39 L173.95,349.39 L174.20,349.39 L174.45,349.39 L174.70,349.39 L174.95,349.39 L175.20,349.39 L175.45,349.39 L175.70,349.39 L175.95,349.39 L176.20,349.39 L176.45,349.39 L176.70,349.39 L176.95,349.39 L177.20,349.39 L177.45,349.39 L177.70,349.39 L177.95,349.39 L178.20,349.39 L178.45,349.39 L178.70,349.39 L178.95,349.39 L179.20,349.39 L179.45,349.39 L179.70,349.39 L179.95,349.39 L180.20,349.39 L180.45,349.39 L180.70,349.39 L180.95,349.39 L181.20,349.39 L181.45,349.39 L181.70,349.39 L181.95,349.39 L182.20,349.39 L182.45,349.39 L182.70,349.39 L182.95,349.39 L183.20,349.39 L183.45,349.39 L183.70,349.39 L183.95,349.39 L184.20,349.39 L184.45,349.39 L184.70,349.39 L184.95,349.39 L185.20,349.39 L185.45,349.39 L185.70,349.39 L185.95,349.39 L186.20,349.39 L186.45,349.39 L186.70,349.39 L186.95,349.39 L187.20,349.39 L187.45,349.39 L187.70,349.39 L187.95,349.39 L188.20,349.39 L188.45,349.39 L188.70,349.39 L188.95,349.39 L189.20,349.39 L189.45,349.39 L189.70,349.39 L189.95,349.39 L190.20,349.39 L190.45,349.39 L190.70,349.39 L190.95,349.39 L191.20,349.39 L191.45,349.39 L191.70,349.39 L191.95,349.39 L192.20,349.39 L192.45,349.39 L192.70,349.39 L192.95,349.39 L193.20,349.39 L193.45,349.39 L193.70,349.39 L193.95,349.39 L194.20,349.39 L194.45,349.39 L194.70,349.39 L194.95,349.39 L195.20,349.39 L195.45,349.39 L195.70,349.39 L195.95,349.39 L196.20,349.39 L196.45,349.39 L196.70,349.39 L196.95,349.39 L197.20,349.39 L197.45,349.39 L197.70,349.39 L197.95,349.39 L198.20,349.39 L198.45,349.39 L198.70,349.39 L198.95,349.39 L199.20,349.39 L199.45,349.39 L199.70,349.39 L199.95,349.39 L200.20,349.39 L200.45,349.39 L200.70,349.39 L200.95,349.39 L201.20,349.39 L201.45,349.39 L201.70,349.39 L201.95,349.39 L202.20,349.39 L202.45,349.39 L202.70,349.39 L202.95,349.39 L203.20,349.39 L203.45,349.39 L203.70,349.39 L203.95,349.39 L204.20,349.38 L204.45,349.38 L204.70,349.38 L204.95,349.38 L205.20,349.38 L205.45,349.38 L205.70,349.38 L205.95,349.38 L206.20,349.38 L206.45,349.38 L206.70,349.38 L206.95,349.38 L207.20,349.38 L207.45,349.38 L207.70,349.38 L207.95,349.38 L208.20,349.38 L208.45,349.38 L208.70,349.38 L208.95,349.38 L209.20,349.38 L209.45,349.38 L209.70,349.38 L209.95,349.38 L210.20,349.38 L210.45,349.38 L210.70,349.38 L210.95,349.38 L211.20,349.38 L211.45,349.38 L211.70,349.38 L211.95,349.38 L212.20,349.38 L212.45,349.38 L212.70,349.38 L212.95,349.38 L213.20,349.38 L213.45,349.38 L213.70,349.38 L213.95,349.38 L214.20,349.38 L214.45,349.38 L214.70,349.37 L214.95,349.37 L215.20,349.37 L215.45,349.37 L215.70,349.37 L215.95,349.37 L216.20,349.37 L216.45,349.37 L216.70,349.37 L216.95,349.37 L217.20,349.37 L217.45,349.37 L217.70,349.37 L217.95,349.37 L218.20,349.37 L218.45,349.37 L218.70,349.37 L218.95,349.37 L219.20,349.37 L219.45,349.37 L219.70,349.37 L219.95,349.37 L220.20,349.37 L220.45,349.36 L220.70,349.36 L220.95,349.36 L221.20,349.36 L221.45,349.36 L221.70,349.36 L221.95,349.36 L222.20,349.36 L222.45,349.36 L222.70,349.36 L222.95,349.36 L223.20,349.36 L223.45,349.36 L223.70,349.36 L223.95,349.36 L224.20,349.35 L224.45,349.35 L224.70,349.35 L224.95,349.35 L225.20,349.35 L225.45,349.35 L225.70,349.35 L225.95,349.35 L226.20,349.35 L226.45,349.35 L226.70,349.34 L226.95,349.34 L227.20,349.34 L227.45,349.34 L227.70,349.34 L227.95,349.34 L228.20,349.34 L228.45,349.34 L228.70,349.33 L228.95,349.33 L229.20,349.33 L229.45,349.33 L229.70,349.33 L229.95,349.33 L230.20,349.33 L230.45,349.32 L230.70,349.32 L230.95,349.32 L231.20,349.32 L231.45,349.32 L231.70,349.31 L231.95,349.31 L232.20,349.31 L232.45,349.31 L232.70,349.30 L232.95,349.30 L233.20,349.30 L233.45,349.30 L233.70,349.29 L233.95,349.29 L234.20,349.29 L234.45,349.28 L234.70,349.28 L234.95,349.28 L235.20,349.27 L235.45,349.27 L235.70,349.26 L235.95,349.26 L236.20,349.25 L236.45,349.25 L236.70,349.24 L236.95,349.24 L237.20,349.23 L237.45,349.23 L237.70,349.22 L237.95,349.21 L238.20,349.21 L238.45,349.20 L238.70,349.19 L238.95,349.18 L239.20,349.17 L239.45,349.16 L239.70,349.15 L239.95,349.14 L240.20,349.13 L240.45,349.12 L240.70,349.11 L240.95,349.09 L241.20,349.08 L241.45,349.06 L241.70,349.04 L241.95,349.02 L242.20,349.00 L242.45,348.98 L242.70,348.96 L242.95,348.93 L243.20,348.90 L243.45,348.87 L243.70,348.84 L243.95,348.80 L244.20,348.75 L244.45,348.71 L244.70,348.66 L244.95,348.60 L245.20,348.53 L245.45,348.46 L245.70,348.37 L245.95,348.28 L246.20,348.17 L246.45,348.04 L246.70,347.90 L246.95,347.73 L247.20,347.53 L247.45,347.29 L247.70,347.00 L247.95,346.64 L248.20,346.21 L248.45,345.66 L248.70,344.97 L248.95,344.06 L249.20,342.86 L249.45,341.21 L249.70,338.86 L249.95,335.41 L250.20,330.10 L250.45,321.48 L250.70,306.95 L250.95,282.79 L251.20,251.19 L251.45,239.11 L251.70,263.70 L251.95,293.80 L252.20,313.71 L252.45,325.46 L252.70,332.52 L252.95,336.96 L253.20,339.90 L253.45,341.93 L253.70,343.39 L253.95,344.46 L254.20,345.27 L254.45,345.90 L254.70,346.39 L254.95,346.79 L255.20,347.12 L255.45,347.39 L255.70,347.61 L255.95,347.80 L256.20,347.96 L256.45,348.10 L256.70,348.22 L256.95,348.32 L257.20,348.41 L257.45,348.49 L257.70,348.56 L257.95,348.62 L258.20,348.68 L258.45,348.73 L258.70,348.77 L258.95,348.81 L259.20,348.85 L259.45,348.88 L259.70,348.91 L259.95,348.94 L260.20,348.97 L260.45,348.99 L260.70,349.01 L260.95,349.03 L261.20,349.05 L261.45,349.07 L261.70,349.08 L261.95,349.10 L262.20,349.11 L262.45,349.13 L262.70,349.14 L262.95,349.15 L263.20,349.16 L263.45,349.17 L263.70,349.18 L263.95,349.19 L264.20,349.20 L264.45,349.20 L264.70,349.21 L264.95,349.22 L265.20,349.22 L265.45,349.23 L265.70,349.24 L265.95,349.24 L266.20,349.25 L266.45,349.25 L266.70,349.26 L266.95,349.26 L267.20,349.27 L267.45,349.27 L267.70,349.27 L267.95,349.28 L268.20,349.28 L268.45,349.28 L268.70,349.29 L268.95,349.29 L269.20,349.29 L269.45,349.30 L269.70,349.30 L269.95,349.30 L270.20,349.30 L270.45,349.31 L270.70,349.31 L270.95,349.31 L271.20,349.31 L271.45,349.32 L271.70,349.32 L271.95,349.32 L272.20,349.32 L272.45,349.32 L272.70,349.33 L272.95,349.33 L273.20,349.33 L273.45,349.33 L273.70,349.33 L273.95,349.33 L274.20,349.34 L274.45,349.34 L274.70,349.34 L274.95,349.34 L275.20,349.34 L275.45,349.34 L275.70,349.34 L275.95,349.34 L276.20,349.35 L276.45,349.35 L276.70,349.35 L276.95,349.35 L277.20,349.35 L277.45,349.35 L277.70,349.35 L277.95,349.35 L278.20,349.35 L278.45,349.35 L278.70,349.35 L278.95,349.36 L279.20,349.36 L279.45,349.36 L279.70,349.36 L279.95,349.36 L280.20,349.36 L280.45,349.36 L280.70,349.36 L280.95,349.36 L281.20,349.36 L281.45,349.36 L281.70,349.36 L281.95,349.36 L282.20,349.36 L282.45,349.37 L282.70,349.37 L282.95,349.37 L283.20,349.37 L283.45,349.37 L283.70,349.37 L283.95,349.37 L284.20,349.37 L284.45,349.37 L284.70,349.37 L284.95,349.37 L285.20,349.37 L285.45,349.37 L285.70,349.37 L285.95,349.37 L286.20,349.37 L286.45,349.37 L286.70,349.37 L286.95,349.37 L287.20,349.37 L287.45,349.37 L287.70,349.37 L287.95,349.37 L288.20,349.38 L288.45,349.38 L288.70,349.38 L288.95,349.38 L289.20,349.38 L289.45,349.38 L289.70,349.38 L289.95,349.38 L290.20,349.38 L290.45,349.38 L290.70,349.38 L290.95,349.38 L291.20,349.38 L291.45,349.38 L291.70,349.38 L291.95,349.38 L292.20,349.38 L292.45,349.38 L292.70,349.38 L292.95,349.38 L293.20,349.38 L293.45,349.38 L293.70,349.38 L293.95,349.38 L294.20,349.38 L294.45,349.38 L294.70,349.38 L294.95,349.38 L295.20,349.38 L295.45,349.38 L295.70,349.38 L295.95,349.38 L296.20,349.38 L296.45,349.38 L296.70,349.38 L296.95,349.38 L297.20,349.38 L297.45,349.38 L297.70,349.38 L297.95,349.38 L298.20,349.38 L298.45,349.38 L298.70,349.38 L298.95,349.39 L299.20,349.39 L299.45,349.39 L299.70,349.39 L299.95,349.39 L300.20,349.39 L300.45,349.39 L300.70,349.39 L300.95,349.39 L301.20,349.39 L301.45,349.39 L301.70,349.39 L301.95,349.39 L302.20,349.39 L302.45,349.39 L302.70,349.39 L302.95,349.39 L303.20,349.39 L303.45,349.39 L303.70,349.39 L303.95,349.39 L304.20,349.39 L304.45,349.39 L304.70,349.39 L304.95,349.39 L305.20,349.39 L305.45,349.39 L305.70,349.39 L305.95,349.39 L306.20,349.39 L306.45,349.39 L306.70,349.39 L306.95,349.39 L307.20,349.39 L307.45,349.39 L307.70,349.39 L307.95,349.39 L308.20,349.39 L308.45,349.39 L308.70,349.39 L308.95,349.39 L309.20,349.39 L309.45,349.39 L309.70,349.39 L309.95,349.39 L310.20,349.39 L310.45,349.39 L310.70,349.39 L310.95,349.39 L311.20,349.39 L311.45,349.39 L311.70,349.39 L311.95,349.39 L312.20,349.39 L312.45,349.39 L312.70,349.39 L312.95,349.39 L313.20,349.39 L313.45,349.39 L313.70,349.39 L313.95,349.39 L314.20,349.39 L314.45,349.39 L314.70,349.39 L314.95,349.39 L315.20,349.39 L315.45,349.39 L315.70,349.39 L315.95,349.39 L316.20,349.39 L316.45,349.39 L316.70,349.39 L316.95,349.39 L317.20,349.39 L317.45,349.39 L317.70,349.39 L317.95,349.39 L318.20,349.39 L318.45,349.39 L318.70,349.39 L318.95,349.39 L319.20,349.39 L319.45,349.39 L319.70,349.39 L319.95,349.39 L320.20,349.39 L320.45,349.39 L320.70,349.39 L320.95,349.39 L321.20,349.39 L321.45,349.39 L321.70,349.39 L321.95,349.39 L322.20,349.39 L322.45,349.39 L322.70,349.39 L322.95,349.39 L323.20,349.39 L323.45,349.39 L323.70,349.39 L323.95,349.39 L324.20,349.39 L324.45,349.39 L324.70,349.39 L324.95,349.39 L325.20,349.39 L325.45,349.39 L325.70,349.39 L325.95,349.39 L326.20,349.39 L326.45,349.39 L326.70,349.39 L326.95,349.39 L327.20,349.39 L327.45,349.39 L327.70,349.39 L327.95,349.39 L328.20,349.39 L328.45,349.39 L328.70,349.39 L328.95,349.39 L329.20,349.39 L329.45,349.39 L329.70,349.39 L329.95,349.39 L330.20,349.39 L330.45,349.39 L330.70,349.39 L330.95,349.39 L331.20,349.39 L331.45,349.39 L331.70,349.39 L331.95,349.39 L332.20,349.39 L332.45,349.39 L332.70,349.39 L332.95,349.39 L333.20,349.39 L333.45,349.39 L333.70,349.39 L333.95,349.39 L334.20,349.39 L334.45,349.39 L334.70,349.39 L334.95,349.39 L335.20,349.39 L335.45,349.40 L335.70,349.40 L335.95,349.40 L336.20,349.40 L336.45,349.40 L336.70,349.40 L336.95,349.40 L337.20,349.40 L337.45,349.40 L337.70,349.40 L337.95,349.40 L338.20,349.40 L338.45,349.40 L338.70,349.40 L338.95,349.40 L339.20,349.40 L339.45,349.40 L339.70,349.40 L339.95,349.40 L340.20,349.40 L340.45,349.40 L340.70,349.40 L340.95,349.40 L341.20,349.40 L341.45,349.40 L341.70,349.40 L341.95,349.40 L342.20,349.40 L342.45,349.40 L342.70,349.40 L342.95,349.40 L343.20,349.40 L343.45,349.40 L343.70,349.40 L343.95,349.40 L344.20,349.40 L344.45,349.40 L344.70,349.40 L344.95,349.40 L345.20,349.40 L345.45,349.40 L345.70,349.40 L345.95,349.40 L346.20,349.40 L346.45,349.40 L346.70,349.40 L346.95,349.40 L347.20,349.40 L347.45,349.40 L347.70,349.40 L347.95,349.40 L348.20,349.40 L348.45,349.40 L348.70,349.40 L348.95,349.40 L349.20,349.40 L349.45,349.40 L349.70,349.40 L349.95,349.40 L350.20,349.40 L350.45,349.40 L350.70,349.40 L350.95,349.40 L351.20,349.40 L351.45,349.40 L351.70,349.40 L351.95,349.40 L352.20,349.40 L352.45,349.40 L352.70,349.40 L352.95,349.40 L353.20,349.40 L353.45,349.40 L353.70,349.40 L353.95,349.40 L354.20,349.40 L354.45,349.40 L354.70,349.40 L354.95,349.40 L355.20,349.40 L355.45,349.40 L355.70,349.40 L355.95,349.40 L356.20,349.40 L356.45,349.40 L356.70,349.40 L356.95,349.40 L357.20,349.40 L357.45,349.40 L357.70,349.40 L357.95,349.40 L358.20,349.40 L358.45,349.40 L358.70,349.40 L358.95,349.40 L359.20,349.40 L359.45,349.40 L359.70,349.40 L359.95,349.40 L360.20,349.40 L360.45,349.40 L360.70,349.40 L360.95,349.40 L361.20,349.40 L361.45,349.40 L361.70,349.40 L361.95,349.40 L362.20,349.40 L362.45,349.40 L362.70,349.40 L362.95,349.40 L363.20,349.40 L363.45,349.40 L363.70,349.40 L363.95,349.40 L364.20,349.40 L364.45,349.40 L364.70,349.40 L364.95,349.40 L365.20,349.40 L365.45,349.40 L365.70,349.40 L365.95,349.40 L366.20,349.40 L366.45,349.40 L366.70,349.40 L366.95,349.40 L367.20,349.40 L367.45,349.40 L367.70,349.40 L367.95,349.40 L368.20,349.40 L368.45,349.40 L368.70,349.40 L368.95,349.40 L369.20,349.40 L369.45,349.40 L369.70,349.40 L369.95,349.40 L370.20,349.40 L370.45,349.40 L370.70,349.40 L370.95,349.40 L371.20,349.40 L371.45,349.40 L371.70,349.40 L371.95,349.40 L372.20,349.40 L372.45,349.40 L372.70,349.40 L372.95,349.40 L373.20,349.40 L373.45,349.40 L373.70,349.40 L373.95,349.40 L374.20,349.40 L374.45,349.40 L374.70,349.40 L374.95,349.40 L375.20,349.40 L375.45,349.40 L375.70,349.40 L375.95,349.40 L376.20,349.40 L376.45,349.40 L376.70,349.40 L376.95,349.40 L377.20,349.40 L377.45,349.40 L377.70,349.40 L377.95,349.40 L378.20,349.40 L378.45,349.40 L378.70,349.40 L378.95,349.40 L379.20,349.40 L379.45,349.40 L379.70,349.40 L379.95,349.40 L380.20,349.40 L380.45,349.40 L380.70,349.40 L380.95,349.40 L381.20,349.40 L381.45,349.40 L381.70,349.40 L381.95,349.40 L382.20,349.40 L382.45,349.40 L382.70,349.40 L382.95,349.40 L383.20,349.40 L383.45,349.40 L383.70,349.40 L383.95,349.40 L384.20,349.40 L384.45,349.40 L384.70,349.40 L384.95,349.40 L385.20,349.40 L385.45,349.40 L385.70,349.40 L385.95,349.40 L386.20,349.40 L386.45,349.40 L386.70,349.40 L386.95,349.40 L387.20,349.40 L387.45,349.40 L387.70,349.40 L387.95,349.40 L388.20,349.40 L388.45,349.40 L388.70,349.40 L388.95,349.40 L389.20,349.40 L389.45,349.40 L389.70,349.40 L389.95,349.40 L390.20,349.40 L390.45,349.40 L390.70,349.40 L390.95,349.40 L391.20,349.40 L391.45,349.40 L391.70,349.40 L391.95,349.40 L392.20,349.40 L392.45,349.40 L392.70,349.40 L392.95,349.40 L393.20,349.40 L393.45,349.40 L393.70,349.40 L393.95,349.40 L394.20,349.40 L394.45,349.40 L394.70,349.40 L394.95,349.40 L395.20,349.40 L395.45,349.40 L395.70,349.40 L395.95,349.40 L396.20,349.40 L396.45,349.40 L396.70,349.40 L396.95,349.40 L397.20,349.40 L397.45,349.40 L397.70,349.40 L397.95,349.40 L398.20,349.40 L398.45,349.40 L398.70,349.40 L398.95,349.40 L399.20,349.39 L399.45,349.39 L399.70,349.39 L399.95,349.39 L400.20,349.39 L400.45,349.39 L400.70,349.39 L400.95,349.39 L401.20,349.39 L401.45,349.39 L401.70,349.39 L401.95,349.39 L402.20,349.39 L402.45,349.39 L402.70,349.39 L402.95,349.39 L403.20,349.39 L403.45,349.39 L403.70,349.39 L403.95,349.39 L404.20,349.39 L404.45,349.39 L404.70,349.39 L404.95,349.39 L405.20,349.39 L405.45,349.39 L405.70,349.39 L405.95,349.39 L406.20,349.39 L406.45,349.39 L406.70,349.39 L406.95,349.39 L407.20,349.39 L407.45,349.39 L407.70,349.39 L407.95,349.39 L408.20,349.39 L408.45,349.39 L408.70,349.39 L408.95,349.39 L409.20,349.39 L409.45,349.39 L409.70,349.38 L409.95,349.38 L410.20,349.38 L410.45,349.38 L410.70,349.38 L410.95,349.38 L411.20,349.38 L411.45,349.38 L411.70,349.38 L411.95,349.38 L412.20,349.37 L412.45,349.37 L412.70,349.37 L412.95,349.37 L413.20,349.37 L413.45,349.36 L413.70,349.36 L413.95,349.36 L414.20,349.35 L414.45,349.35 L414.70,349.35 L414.95,349.34 L415.20,349.33 L415.45,349.33 L415.70,349.32 L415.95,349.31 L416.20,349.30 L416.45,349.28 L416.70,349.27 L416.95,349.24 L417.20,349.22 L417.45,349.18 L417.70,349.14 L417.95,349.08 L418.20,348.99 L418.45,348.87 L418.70,348.70 L418.95,348.44 L419.20,348.05 L419.45,347.48 L419.70,346.78 L419.95,346.31 L420.20,346.53 L420.45,347.21 L420.70,347.85 L420.95,348.31 L421.20,348.61 L421.45,348.81 L421.70,348.95 L421.95,349.04 L422.20,349.11 L422.45,349.16 L422.70,349.20 L422.95,349.23 L423.20,349.26 L423.45,349.28 L423.70,349.29 L423.95,349.30 L424.20,349.32 L424.45,349.32 L424.70,349.33 L424.95,349.34 L425.20,349.34 L425.45,349.35 L425.70,349.35 L425.95,349.36 L426.20,349.36 L426.45,349.36 L426.70,349.37 L426.95,349.37 L427.20,349.37 L427.45,349.37 L427.70,349.37 L427.95,349.38 L428.20,349.38 L428.45,349.38 L428.70,349.38 L428.95,349.38 L429.20,349.38 L429.45,349.38 L429.70,349.38 L429.95,349.38 L430.20,349.38 L430.45,349.39 L430.70,349.39 L430.95,349.39 L431.20,349.39 L431.45,349.39 L431.70,349.39 L431.95,349.39 L432.20,349.39 L432.45,349.39 L432.70,349.39 L432.95,349.39 L433.20,349.39 L433.45,349.39 L433.70,349.39 L433.95,349.39 L434.20,349.39 L434.45,349.39 L434.70,349.39 L434.95,349.39 L435.20,349.39 L435.45,349.39 L435.70,349.39 L435.95,349.39 L436.20,349.39 L436.45,349.39 L436.70,349.39 L436.95,349.39 L437.20,349.39 L437.45,349.39 L437.70,349.39 L437.95,349.39 L438.20,349.39 L438.45,349.39 L438.70,349.39 L438.95,349.39 L439.20,349.39 L439.45,349.40 L439.70,349.40 L439.95,349.40 L440.20,349.40 L440.45,349.40 L440.70,349.40 L440.95,349.40 L441.20,349.40 L441.45,349.40 L441.70,349.40 L441.95,349.40 L442.20,349.40 L442.45,349.40 L442.70,349.40 L442.95,349.40 L443.20,349.40 L443.45,349.40 L443.70,349.40 L443.95,349.40 L444.20,349.40 L444.45,349.40 L444.70,349.40 L444.95,349.40 L445.20,349.40 L445.45,349.40 L445.70,349.40 L445.95,349.40 L446.20,349.40 L446.45,349.40 L446.70,349.40 L446.95,349.40 L447.20,349.40 L447.45,349.40 L447.70,349.40 L447.95,349.40 L448.20,349.40 L448.45,349.40 L448.70,349.40 L448.95,349.40 L449.20,349.40 L449.45,349.40 L449.70,349.40 L449.95,349.40 L450.20,349.40 L450.45,349.40 L450.70,349.40 L450.95,349.40 L451.20,349.40 L451.45,349.40 L451.70,349.40 L451.95,349.40 L452.20,349.40 L452.45,349.40 L452.70,349.40 L452.95,349.40 L453.20,349.40 L453.45,349.40 L453.70,349.40 L453.95,349.40 L454.20,349.40 L454.45,349.40 L454.70,349.40 L454.95,349.40 L455.20,349.40 L455.45,349.40 L455.70,349.40 L455.95,349.40 L456.20,349.40 L456.45,349.40 L456.70,349.40 L456.95,349.40 L457.20,349.40 L457.45,349.40 L457.70,349.40 L457.95,349.40 L458.20,349.40 L458.45,349.40 L458.70,349.40 L458.95,349.40 L459.20,349.40 L459.45,349.40 L459.70,349.40 L459.95,349.40 L460.20,349.40 L460.45,349.40 L460.70,349.40 L460.95,349.40 L461.20,349.40 L461.45,349.40 L461.70,349.40 L461.95,349.40 L462.20,349.40 L462.45,349.40 L462.70,349.40 L462.95,349.40 L463.20,349.40 L463.45,349.40 L463.70,349.40 L463.95,349.40 L464.20,349.40 L464.45,349.40 L464.70,349.40 L464.95,349.40 L465.20,349.40 L465.45,349.40 L465.70,349.40 L465.95,349.40 L466.20,349.40 L466.45,349.40 L466.70,349.40 L466.95,349.40 L467.20,349.40 L467.45,349.40 L467.70,349.40 L467.95,349.40 L468.20,349.40 L468.45,349.40 L468.70,349.40 L468.95,349.40 L469.20,349.40 L469.45,349.40 L469.70,349.40 L469.95,349.40 L470.20,349.40 L470.45,349.40 L470.70,349.40 L470.95,349.40 L471.20,349.40 L471.45,349.40 L471.70,349.40 L471.95,349.40 L472.20,349.40 L472.45,349.40 L472.70,349.40 L472.95,349.40 L473.20,349.40 L473.45,349.40 L473.70,349.40 L473.95,349.40 L474.20,349.40 L474.45,349.40 L474.70,349.40 L474.95,349.40 L475.20,349.40 L475.45,349.40 L475.70,349.40 L475.95,349.40 L476.20,349.40 L476.45,349.40 L476.70,349.40 L476.95,349.40 L477.20,349.40 L477.45,349.40 L477.70,349.40 L477.95,349.40 L478.20,349.40 L478.45,349.40 L478.70,349.40 L478.95,349.40 L479.20,349.40 L479.45,349.40 L479.70,349.40 L479.95,349.40 L480.20,349.40 L480.45,349.40 L480.70,349.40 L480.95,349.40 L481.20,349.40 L481.45,349.40 L481.70,349.40 L481.95,349.40 L482.20,349.40 L482.45,349.40 L482.70,349.40 L482.95,349.40 L483.20,349.40 L483.45,349.40 L483.70,349.40 L483.95,349.40 L484.20,349.40 L484.45,349.40 L484.70,349.40 L484.95,349.40 L485.20,349.40 L485.45,349.40 L485.70,349.40 L485.95,349.40 L486.20,349.40 L486.45,349.40 L486.70,349.40 L486.95,349.40 L487.20,349.40 L487.45,349.40 L487.70,349.40 L487.95,349.40 L488.20,349.40 L488.45,349.40 L488.70,349.40 L488.95,349.40 L489.20,349.40 L489.45,349.40 L489.70,349.40 L489.95,349.40 L490.20,349.40 L490.45,349.40 L490.70,349.40 L490.95,349.40 L491.20,349.40 L491.45,349.40 L491.70,349.40 L491.95,349.40 L492.20,349.40 L492.45,349.40 L492.70,349.40 L492.95,349.40 L493.20,349.40 L493.45,349.40 L493.70,349.40 L493.95,349.40 L494.20,349.40 L494.45,349.40 L494.70,349.40 L494.95,349.40 L495.20,349.40 L495.45,349.40 L495.70,349.40 L495.95,349.40 L496.20,349.40 L496.45,349.40 L496.70,349.40 L496.95,349.40 L497.20,349.40 L497.45,349.40 L497.70,349.40 L497.95,349.40 L498.20,349.40 L498.45,349.40 L498.70,349.40 L498.95,349.40 L499.20,349.40 L499.45,349.40 L499.70,349.40 L499.95,349.40 L500.20,349.40 L500.45,349.40 L500.70,349.40 L500.95,349.40 L501.20,349.40 L501.45,349.40 L501.70,349.40 L501.95,349.40 L502.20,349.40 L502.45,349.40 L502.70,349.40 L502.95,349.40 L503.20,349.40 L503.45,349.40 L503.70,349.40 L503.95,349.40 L504.20,349.40 L504.45,349.40 L504.70,349.40 L504.95,349.40 L505.20,349.40 L505.45,349.40 L505.70,349.40 L505.95,349.40 L506.20,349.40 L506.45,349.40 L506.70,349.40 L506.95,349.40 L507.20,349.40 L507.45,349.40 L507.70,349.40 L507.95,349.40 L508.20,349.40 L508.45,349.40 L508.70,349.40 L508.95,349.40 L509.20,349.40 L509.45,349.40 L509.70,349.40 L509.95,349.40 L510.20,349.40 L510.45,349.40 L510.70,349.40 L510.95,349.40 L511.20,349.40 L511.45,349.40 L511.70,349.40 L511.95,349.40 L512.20,349.40 L512.45,349.40 L512.70,349.40 L512.95,349.40 L513.20,349.40 L513.45,349.40 L513.70,349.40 L513.95,349.40 L514.20,349.40 L514.45,349.40 L514.70,349.40 L514.95,349.40 L515.20,349.40 L515.45,349.40 L515.70,349.40 L515.95,349.40 L516.20,349.40 L516.45,349.40 L516.70,349.40 L516.95,349.40 L517.20,349.40 L517.45,349.40 L517.70,349.40 L517.95,349.40 L518.20,349.40 L518.45,349.40 L518.70,349.40 L518.95,349.40 L519.20,349.40 L519.45,349.40 L519.70,349.40 L519.95,349.40 L520.20,349.40 L520.45,349.40 L520.70,349.40 L520.95,349.40 L521.20,349.40 L521.45,349.40 L521.70,349.40 L521.95,349.40 L522.20,349.40 L522.45,349.40 L522.70,349.40 L522.95,349.40 L523.20,349.40 L523.45,349.40" fill="none" stroke="#ff0000" stroke-width="3.0" stroke-linejoin="round"/>
<path d="M99.0,21.80 H132.6" stroke="#0000ff" stroke-width="2.8" stroke-linecap="round"/>
<text x="135.7" y="26.90" class="lg" textLength="88.8" lengthAdjust="spacingAndGlyphs">1 ppmv acetone</text>
<path d="M99.0,40.35 H132.6" stroke="#ff00ff" stroke-width="2.8" stroke-linecap="round"/>
<text x="135.7" y="45.45" class="lg" textLength="105.6" lengthAdjust="spacingAndGlyphs">0.38 ppmv ethanol</text>
<path d="M99.0,58.90 H132.6" stroke="#00ffff" stroke-width="2.8" stroke-linecap="round"/>
<text x="135.7" y="64.00" class="lg" textLength="96.8" lengthAdjust="spacingAndGlyphs">2 ppmv methane</text>
<path d="M99.0,77.45 H132.6" stroke="#006400" stroke-width="2.8" stroke-linecap="round"/>
<text x="135.7" y="82.55" class="lg" textLength="107.6" lengthAdjust="spacingAndGlyphs">5% carbon dioxide</text>
<path d="M99.0,96.00 H132.6" stroke="#ff0000" stroke-width="2.8" stroke-linecap="round"/>
<text x="135.7" y="101.10" class="lg" textLength="56.7" lengthAdjust="spacingAndGlyphs">1%  water</text>
<text x="95.20" y="376.7" class="tk" text-anchor="middle">1364</text>
<text x="238.00" y="376.7" class="tk" text-anchor="middle">1365</text>
<text x="380.80" y="376.7" class="tk" text-anchor="middle">1366</text>
<text x="523.60" y="376.7" class="tk" text-anchor="middle">1367</text>
<text x="43.6" y="354.50" class="tk" textLength="40.6" lengthAdjust="spacingAndGlyphs">0.00</text>
<text x="43.6" y="249.97" class="tk" textLength="40.6" lengthAdjust="spacingAndGlyphs">0.01</text>
<text x="43.6" y="145.43" class="tk" textLength="40.6" lengthAdjust="spacingAndGlyphs">0.02</text>
<text x="43.6" y="40.90" class="tk" textLength="40.6" lengthAdjust="spacingAndGlyphs">0.03</text>
<text x="203.7" y="407.3" class="ti" textLength="212.6" lengthAdjust="spacingAndGlyphs">Wavenumbers (cm<tspan font-size="14" dy="-7.8">-1</tspan><tspan dy="7.8">)</tspan></text>
<text transform="translate(20.7,227.2) rotate(-90)" class="ti" textLength="122.3" lengthAdjust="spacingAndGlyphs">Absorbance</text>
</svg>
</body></html>
